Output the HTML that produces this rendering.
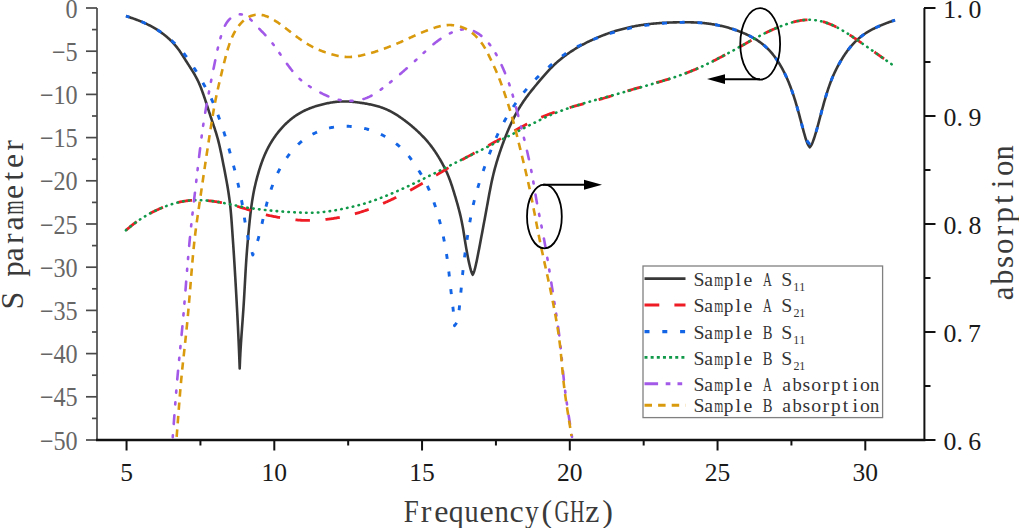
<!DOCTYPE html>
<html><head><meta charset="utf-8"><style>
html,body{margin:0;padding:0;background:#fff;}
body{width:1019px;height:528px;position:relative;overflow:hidden;font-family:"Liberation Serif",serif;}
</style></head><body>
<svg width="1019" height="528" viewBox="0 0 1019 528" style="position:absolute;left:0;top:0">
<defs><clipPath id="clip"><rect x="97" y="0" width="828" height="440"/></clipPath></defs>
<g clip-path="url(#clip)">
<path d="M126.00,16.00 L126.94,16.34 L127.89,16.67 L128.83,17.00 L129.78,17.33 L130.73,17.65 L131.68,17.98 L132.62,18.31 L133.57,18.64 L134.51,18.98 L135.45,19.32 L136.39,19.67 L137.33,20.02 L138.26,20.38 L139.20,20.75 L140.13,21.12 L141.05,21.50 L141.98,21.88 L142.90,22.27 L143.82,22.67 L144.74,23.08 L145.65,23.49 L146.56,23.91 L147.46,24.34 L148.36,24.79 L149.26,25.23 L150.15,25.69 L151.03,26.16 L151.91,26.64 L152.79,27.13 L153.66,27.62 L154.52,28.13 L155.38,28.64 L156.23,29.17 L157.08,29.71 L157.92,30.25 L158.75,30.81 L159.58,31.37 L160.40,31.94 L161.22,32.53 L162.03,33.12 L162.83,33.72 L163.63,34.32 L164.42,34.94 L165.20,35.57 L165.97,36.20 L166.74,36.84 L167.50,37.49 L168.26,38.15 L169.00,38.82 L169.74,39.50 L170.47,40.19 L171.19,40.89 L171.89,41.60 L172.59,42.31 L173.28,43.04 L173.96,43.78 L174.62,44.53 L175.27,45.29 L175.92,46.06 L176.55,46.84 L177.16,47.63 L177.77,48.43 L178.37,49.23 L178.95,50.04 L179.53,50.86 L180.10,51.69 L180.66,52.52 L181.21,53.35 L181.76,54.19 L182.30,55.03 L182.84,55.88 L183.38,56.72 L183.92,57.57 L184.45,58.41 L184.99,59.26 L185.52,60.11 L186.06,60.95 L186.60,61.80 L187.14,62.64 L187.68,63.49 L188.22,64.33 L188.76,65.17 L189.30,66.02 L189.84,66.86 L190.38,67.70 L190.92,68.55 L191.45,69.39 L191.99,70.24 L192.52,71.09 L193.04,71.95 L193.56,72.80 L194.07,73.66 L194.58,74.53 L195.08,75.40 L195.57,76.27 L196.05,77.15 L196.52,78.03 L196.99,78.92 L197.44,79.82 L197.88,80.72 L198.31,81.62 L198.73,82.53 L199.14,83.44 L199.54,84.36 L199.93,85.29 L200.31,86.21 L200.68,87.14 L201.04,88.07 L201.40,89.01 L201.75,89.95 L202.10,90.89 L202.44,91.83 L202.78,92.77 L203.11,93.72 L203.45,94.66 L203.77,95.61 L204.10,96.56 L204.42,97.50 L204.74,98.45 L205.06,99.40 L205.38,100.35 L205.69,101.30 L206.01,102.26 L206.32,103.21 L206.63,104.16 L206.94,105.11 L207.24,106.07 L207.55,107.02 L207.86,107.97 L208.16,108.93 L208.47,109.88 L208.78,110.84 L209.08,111.79 L209.39,112.74 L209.70,113.70 L210.01,114.65 L210.32,115.60 L210.64,116.55 L210.95,117.50 L211.27,118.45 L211.58,119.40 L211.90,120.35 L212.22,121.30 L212.55,122.25 L212.87,123.20 L213.19,124.15 L213.51,125.10 L213.83,126.05 L214.15,127.00 L214.47,127.95 L214.78,128.90 L215.09,129.85 L215.40,130.80 L215.70,131.76 L216.00,132.71 L216.29,133.67 L216.58,134.63 L216.86,135.59 L217.14,136.56 L217.41,137.52 L217.68,138.49 L217.94,139.45 L218.19,140.42 L218.44,141.39 L218.69,142.36 L218.93,143.34 L219.16,144.31 L219.39,145.29 L219.62,146.26 L219.84,147.24 L220.06,148.22 L220.28,149.19 L220.49,150.17 L220.70,151.15 L220.91,152.13 L221.11,153.11 L221.32,154.09 L221.52,155.07 L221.72,156.06 L221.92,157.04 L222.12,158.02 L222.31,159.00 L222.51,159.98 L222.70,160.97 L222.90,161.95 L223.09,162.93 L223.28,163.92 L223.48,164.90 L223.67,165.88 L223.86,166.86 L224.05,167.85 L224.25,168.83 L224.44,169.81 L224.63,170.80 L224.82,171.78 L225.01,172.77 L225.19,173.75 L225.38,174.73 L225.57,175.72 L225.75,176.70 L225.94,177.69 L226.12,178.67 L226.30,179.66 L226.48,180.64 L226.66,181.63 L226.84,182.61 L227.01,183.60 L227.18,184.59 L227.35,185.57 L227.52,186.56 L227.69,187.55 L227.85,188.54 L228.01,189.53 L228.17,190.52 L228.33,191.51 L228.48,192.50 L228.63,193.49 L228.78,194.48 L228.92,195.47 L229.06,196.46 L229.20,197.45 L229.33,198.45 L229.46,199.44 L229.59,200.43 L229.72,201.43 L229.84,202.42 L229.95,203.42 L230.07,204.41 L230.18,205.41 L230.29,206.40 L230.39,207.40 L230.49,208.40 L230.59,209.39 L230.69,210.39 L230.78,211.39 L230.87,212.38 L230.96,213.38 L231.05,214.38 L231.13,215.38 L231.22,216.38 L231.30,217.38 L231.38,218.37 L231.45,219.37 L231.53,220.37 L231.60,221.37 L231.68,222.37 L231.75,223.37 L231.82,224.37 L231.89,225.37 L231.96,226.37 L232.03,227.37 L232.10,228.37 L232.17,229.36 L232.24,230.36 L232.31,231.36 L232.38,232.36 L232.44,233.36 L232.51,234.36 L232.58,235.36 L232.65,236.36 L232.72,237.36 L232.79,238.36 L232.86,239.36 L232.92,240.36 L232.99,241.36 L233.06,242.36 L233.13,243.36 L233.20,244.36 L233.27,245.36 L233.33,246.35 L233.40,247.35 L233.47,248.35 L233.53,249.35 L233.60,250.35 L233.67,251.35 L233.73,252.35 L233.80,253.35 L233.86,254.35 L233.93,255.35 L233.99,256.35 L234.05,257.35 L234.12,258.35 L234.18,259.35 L234.24,260.35 L234.31,261.35 L234.37,262.35 L234.43,263.35 L234.49,264.35 L234.55,265.35 L234.61,266.35 L234.67,267.35 L234.73,268.35 L234.79,269.35 L234.85,270.35 L234.91,271.35 L234.97,272.35 L235.03,273.35 L235.09,274.35 L235.15,275.35 L235.21,276.35 L235.27,277.35 L235.33,278.35 L235.39,279.35 L235.44,280.35 L235.50,281.35 L235.56,282.35 L235.62,283.35 L235.68,284.35 L235.73,285.35 L235.79,286.35 L235.85,287.35 L235.90,288.35 L235.96,289.35 L236.02,290.35 L236.07,291.35 L236.13,292.35 L236.18,293.35 L236.24,294.35 L236.30,295.35 L236.35,296.35 L236.41,297.35 L236.46,298.35 L236.52,299.35 L236.57,300.35 L236.63,301.35 L236.68,302.35 L236.74,303.35 L236.79,304.35 L236.84,305.35 L236.90,306.35 L236.95,307.35 L237.01,308.36 L237.06,309.36 L237.11,310.36 L237.16,311.36 L237.22,312.36 L237.27,313.36 L237.32,314.36 L237.37,315.36 L237.42,316.36 L237.47,317.36 L237.52,318.36 L237.57,319.36 L237.62,320.36 L237.67,321.36 L237.72,322.36 L237.77,323.36 L237.82,324.36 L237.87,325.36 L237.92,326.36 L237.97,327.36 L238.02,328.37 L238.06,329.37 L238.11,330.37 L238.16,331.37 L238.20,332.37 L238.25,333.37 L238.30,334.37 L238.34,335.37 L238.39,336.37 L238.44,337.37 L238.48,338.37 L238.53,339.37 L238.57,340.37 L238.62,341.37 L238.66,342.37 L238.71,343.38 L238.75,344.38 L238.79,345.38 L238.84,346.38 L238.88,347.38 L238.92,348.38 L238.97,349.38 L239.01,350.38 L239.05,351.38 L239.09,352.38 L239.13,353.38 L239.17,354.39 L239.21,355.39 L239.25,356.39 L239.29,357.39 L239.33,358.39 L239.37,359.39 L239.41,360.39 L239.44,361.39 L239.48,362.39 L239.52,363.39 L239.55,364.40 L239.59,365.40 L239.63,366.40 L239.66,367.40 L239.70,368.40 L239.74,367.40 L239.78,366.40 L239.82,365.40 L239.86,364.40 L239.90,363.40 L239.94,362.40 L239.98,361.40 L240.02,360.39 L240.06,359.39 L240.11,358.39 L240.16,357.39 L240.21,356.39 L240.26,355.39 L240.31,354.39 L240.36,353.39 L240.41,352.39 L240.47,351.39 L240.53,350.39 L240.58,349.39 L240.64,348.39 L240.70,347.39 L240.76,346.39 L240.83,345.40 L240.89,344.40 L240.95,343.40 L241.02,342.40 L241.09,341.40 L241.15,340.40 L241.22,339.40 L241.29,338.40 L241.36,337.40 L241.43,336.40 L241.50,335.40 L241.57,334.41 L241.65,333.41 L241.72,332.41 L241.79,331.41 L241.86,330.41 L241.94,329.41 L242.01,328.41 L242.08,327.41 L242.16,326.41 L242.23,325.42 L242.30,324.42 L242.38,323.42 L242.45,322.42 L242.52,321.42 L242.60,320.42 L242.67,319.42 L242.74,318.42 L242.81,317.43 L242.88,316.43 L242.95,315.43 L243.02,314.43 L243.09,313.43 L243.16,312.43 L243.23,311.43 L243.30,310.43 L243.37,309.43 L243.43,308.43 L243.50,307.44 L243.56,306.44 L243.63,305.44 L243.69,304.44 L243.76,303.44 L243.82,302.44 L243.88,301.44 L243.94,300.44 L244.00,299.44 L244.06,298.44 L244.12,297.44 L244.18,296.44 L244.24,295.44 L244.29,294.44 L244.35,293.44 L244.41,292.44 L244.46,291.44 L244.52,290.44 L244.57,289.44 L244.63,288.44 L244.68,287.44 L244.74,286.44 L244.79,285.44 L244.85,284.44 L244.90,283.44 L244.96,282.44 L245.01,281.44 L245.07,280.44 L245.12,279.44 L245.18,278.44 L245.23,277.44 L245.29,276.44 L245.35,275.44 L245.40,274.44 L245.46,273.44 L245.52,272.44 L245.57,271.44 L245.63,270.44 L245.69,269.44 L245.75,268.44 L245.81,267.45 L245.88,266.45 L245.94,265.45 L246.00,264.45 L246.07,263.45 L246.13,262.45 L246.20,261.45 L246.26,260.45 L246.33,259.45 L246.40,258.45 L246.47,257.45 L246.54,256.45 L246.62,255.45 L246.69,254.46 L246.77,253.46 L246.84,252.46 L246.92,251.46 L247.00,250.46 L247.07,249.46 L247.15,248.47 L247.23,247.47 L247.32,246.47 L247.40,245.47 L247.48,244.47 L247.57,243.48 L247.65,242.48 L247.74,241.48 L247.82,240.48 L247.91,239.48 L248.00,238.49 L248.08,237.49 L248.17,236.49 L248.26,235.49 L248.35,234.50 L248.44,233.50 L248.54,232.50 L248.63,231.51 L248.72,230.51 L248.82,229.51 L248.91,228.51 L249.01,227.52 L249.11,226.52 L249.21,225.52 L249.31,224.53 L249.41,223.53 L249.51,222.54 L249.61,221.54 L249.71,220.54 L249.82,219.55 L249.93,218.55 L250.04,217.56 L250.15,216.56 L250.26,215.57 L250.37,214.57 L250.49,213.58 L250.61,212.58 L250.73,211.59 L250.85,210.59 L250.97,209.60 L251.10,208.61 L251.23,207.61 L251.36,206.62 L251.49,205.63 L251.63,204.64 L251.77,203.64 L251.92,202.65 L252.06,201.66 L252.21,200.67 L252.37,199.68 L252.53,198.69 L252.69,197.71 L252.86,196.72 L253.03,195.73 L253.20,194.75 L253.38,193.76 L253.57,192.78 L253.76,191.79 L253.95,190.81 L254.15,189.83 L254.36,188.85 L254.56,187.87 L254.78,186.89 L255.00,185.92 L255.22,184.94 L255.45,183.96 L255.68,182.99 L255.92,182.02 L256.16,181.05 L256.41,180.08 L256.66,179.11 L256.92,178.14 L257.18,177.17 L257.44,176.20 L257.71,175.24 L257.98,174.28 L258.26,173.31 L258.54,172.35 L258.82,171.39 L259.11,170.43 L259.40,169.48 L259.70,168.52 L260.01,167.56 L260.31,166.61 L260.63,165.66 L260.95,164.71 L261.27,163.76 L261.60,162.82 L261.94,161.88 L262.29,160.94 L262.64,160.00 L263.00,159.06 L263.36,158.13 L263.74,157.20 L264.12,156.28 L264.51,155.35 L264.90,154.43 L265.31,153.52 L265.72,152.61 L266.14,151.70 L266.57,150.79 L267.01,149.89 L267.46,149.00 L267.92,148.11 L268.38,147.22 L268.86,146.34 L269.34,145.46 L269.83,144.59 L270.33,143.72 L270.84,142.86 L271.35,142.00 L271.88,141.15 L272.41,140.30 L272.96,139.46 L273.51,138.62 L274.07,137.79 L274.64,136.97 L275.21,136.15 L275.80,135.34 L276.39,134.53 L277.00,133.73 L277.61,132.94 L278.23,132.15 L278.86,131.37 L279.49,130.60 L280.14,129.83 L280.79,129.07 L281.45,128.32 L282.13,127.58 L282.81,126.84 L283.49,126.12 L284.19,125.40 L284.90,124.69 L285.61,123.98 L286.33,123.29 L287.06,122.61 L287.80,121.93 L288.55,121.27 L289.31,120.61 L290.07,119.97 L290.85,119.33 L291.63,118.70 L292.42,118.09 L293.22,117.49 L294.03,116.89 L294.84,116.31 L295.67,115.74 L296.50,115.19 L297.34,114.64 L298.19,114.11 L299.04,113.59 L299.90,113.08 L300.77,112.58 L301.65,112.10 L302.54,111.63 L303.43,111.17 L304.32,110.73 L305.23,110.30 L306.14,109.88 L307.05,109.47 L307.97,109.08 L308.90,108.69 L309.83,108.32 L310.76,107.96 L311.70,107.61 L312.64,107.27 L313.59,106.94 L314.54,106.62 L315.49,106.31 L316.45,106.01 L317.40,105.72 L318.36,105.44 L319.33,105.17 L320.29,104.90 L321.26,104.65 L322.23,104.40 L323.20,104.16 L324.18,103.93 L325.16,103.71 L326.13,103.49 L327.11,103.29 L328.10,103.10 L329.08,102.91 L330.07,102.74 L331.06,102.57 L332.04,102.42 L333.04,102.27 L334.03,102.14 L335.02,102.01 L336.02,101.90 L337.01,101.80 L338.01,101.71 L339.01,101.64 L340.01,101.57 L341.01,101.52 L342.01,101.48 L343.01,101.46 L344.01,101.45 L345.01,101.45 L346.01,101.46 L347.02,101.49 L348.02,101.52 L349.02,101.57 L350.02,101.63 L351.02,101.70 L352.01,101.79 L353.01,101.88 L354.01,101.97 L355.00,102.08 L356.00,102.20 L356.99,102.32 L357.98,102.45 L358.98,102.58 L359.97,102.72 L360.96,102.86 L361.95,103.01 L362.94,103.16 L363.93,103.32 L364.92,103.49 L365.90,103.65 L366.89,103.83 L367.88,104.01 L368.86,104.19 L369.84,104.38 L370.82,104.58 L371.80,104.79 L372.78,105.01 L373.76,105.23 L374.73,105.47 L375.70,105.71 L376.67,105.97 L377.63,106.24 L378.60,106.52 L379.55,106.82 L380.50,107.12 L381.45,107.45 L382.40,107.78 L383.33,108.13 L384.27,108.50 L385.19,108.88 L386.11,109.27 L387.03,109.68 L387.94,110.10 L388.84,110.53 L389.74,110.97 L390.63,111.43 L391.52,111.90 L392.40,112.38 L393.27,112.87 L394.14,113.37 L395.00,113.88 L395.85,114.40 L396.70,114.93 L397.55,115.46 L398.39,116.01 L399.22,116.57 L400.05,117.13 L400.87,117.70 L401.69,118.27 L402.51,118.86 L403.32,119.45 L404.12,120.04 L404.93,120.64 L405.72,121.24 L406.52,121.85 L407.31,122.47 L408.09,123.09 L408.88,123.71 L409.66,124.34 L410.43,124.98 L411.20,125.61 L411.97,126.26 L412.74,126.90 L413.50,127.56 L414.25,128.21 L415.00,128.87 L415.75,129.54 L416.49,130.21 L417.23,130.89 L417.96,131.58 L418.69,132.26 L419.41,132.96 L420.13,133.66 L420.84,134.36 L421.55,135.07 L422.25,135.79 L422.94,136.51 L423.63,137.23 L424.32,137.97 L424.99,138.70 L425.66,139.45 L426.33,140.20 L426.99,140.95 L427.64,141.71 L428.28,142.48 L428.92,143.25 L429.55,144.03 L430.17,144.81 L430.79,145.60 L431.40,146.40 L432.00,147.20 L432.59,148.00 L433.18,148.81 L433.76,149.63 L434.33,150.45 L434.90,151.28 L435.46,152.11 L436.01,152.95 L436.55,153.79 L437.09,154.63 L437.63,155.48 L438.15,156.33 L438.68,157.18 L439.19,158.04 L439.71,158.90 L440.21,159.77 L440.71,160.63 L441.21,161.50 L441.70,162.37 L442.19,163.25 L442.67,164.13 L443.15,165.01 L443.61,165.89 L444.08,166.78 L444.53,167.67 L444.98,168.57 L445.42,169.47 L445.85,170.37 L446.28,171.28 L446.70,172.19 L447.10,173.10 L447.50,174.02 L447.90,174.94 L448.28,175.87 L448.66,176.80 L449.02,177.73 L449.38,178.66 L449.74,179.60 L450.08,180.54 L450.42,181.48 L450.75,182.43 L451.08,183.37 L451.40,184.32 L451.72,185.27 L452.03,186.22 L452.34,187.17 L452.65,188.13 L452.95,189.08 L453.25,190.04 L453.55,190.99 L453.85,191.95 L454.14,192.91 L454.43,193.87 L454.72,194.82 L455.01,195.78 L455.30,196.74 L455.59,197.70 L455.87,198.66 L456.15,199.62 L456.43,200.58 L456.71,201.55 L456.99,202.51 L457.26,203.47 L457.53,204.44 L457.80,205.40 L458.07,206.37 L458.33,207.33 L458.59,208.30 L458.85,209.27 L459.10,210.24 L459.35,211.21 L459.60,212.18 L459.84,213.15 L460.08,214.12 L460.31,215.09 L460.54,216.07 L460.76,217.05 L460.98,218.02 L461.19,219.00 L461.40,219.98 L461.61,220.96 L461.81,221.94 L462.00,222.93 L462.19,223.91 L462.38,224.89 L462.56,225.88 L462.73,226.86 L462.91,227.85 L463.08,228.84 L463.25,229.82 L463.41,230.81 L463.57,231.80 L463.73,232.79 L463.89,233.78 L464.05,234.77 L464.21,235.75 L464.36,236.74 L464.52,237.73 L464.68,238.72 L464.83,239.71 L464.99,240.70 L465.15,241.69 L465.31,242.68 L465.47,243.67 L465.63,244.65 L465.80,245.64 L465.96,246.63 L466.13,247.62 L466.30,248.60 L466.47,249.59 L466.65,250.58 L466.83,251.56 L467.01,252.55 L467.19,253.53 L467.37,254.52 L467.56,255.50 L467.75,256.48 L467.94,257.47 L468.14,258.45 L468.34,259.43 L468.54,260.41 L468.75,261.39 L468.96,262.37 L469.18,263.35 L469.39,264.32 L469.62,265.30 L469.85,266.27 L470.09,267.25 L470.34,268.22 L470.60,269.18 L470.87,270.15 L471.17,271.10 L471.49,272.05 L471.86,272.98 L472.27,273.90 L472.70,274.80 L473.13,273.90 L473.54,272.99 L473.91,272.05 L474.23,271.11 L474.52,270.15 L474.79,269.19 L475.05,268.22 L475.29,267.25 L475.53,266.28 L475.75,265.31 L475.97,264.33 L476.18,263.35 L476.39,262.38 L476.60,261.40 L476.80,260.42 L477.00,259.44 L477.20,258.46 L477.40,257.48 L477.59,256.50 L477.79,255.52 L477.98,254.54 L478.18,253.55 L478.37,252.57 L478.56,251.59 L478.75,250.61 L478.94,249.63 L479.13,248.65 L479.32,247.66 L479.50,246.68 L479.69,245.70 L479.88,244.72 L480.07,243.73 L480.25,242.75 L480.44,241.77 L480.62,240.79 L480.81,239.80 L480.99,238.82 L481.18,237.84 L481.36,236.86 L481.55,235.87 L481.73,234.89 L481.92,233.91 L482.10,232.92 L482.28,231.94 L482.47,230.96 L482.65,229.98 L482.84,228.99 L483.02,228.01 L483.20,227.03 L483.39,226.04 L483.57,225.06 L483.76,224.08 L483.94,223.09 L484.12,222.11 L484.30,221.13 L484.49,220.14 L484.67,219.16 L484.85,218.18 L485.03,217.20 L485.21,216.21 L485.40,215.23 L485.58,214.24 L485.76,213.26 L485.94,212.28 L486.12,211.29 L486.30,210.31 L486.48,209.33 L486.66,208.34 L486.83,207.36 L487.01,206.37 L487.19,205.39 L487.37,204.41 L487.55,203.42 L487.73,202.44 L487.90,201.45 L488.08,200.47 L488.26,199.49 L488.44,198.50 L488.62,197.52 L488.80,196.54 L488.98,195.55 L489.16,194.57 L489.34,193.59 L489.53,192.60 L489.71,191.62 L489.90,190.64 L490.09,189.65 L490.28,188.67 L490.47,187.69 L490.66,186.71 L490.86,185.73 L491.06,184.75 L491.26,183.77 L491.47,182.79 L491.67,181.81 L491.88,180.84 L492.10,179.86 L492.32,178.88 L492.54,177.91 L492.76,176.93 L492.99,175.96 L493.22,174.99 L493.46,174.02 L493.70,173.05 L493.94,172.08 L494.19,171.11 L494.44,170.14 L494.70,169.17 L494.96,168.21 L495.22,167.24 L495.49,166.28 L495.76,165.32 L496.04,164.36 L496.32,163.39 L496.60,162.44 L496.89,161.48 L497.18,160.52 L497.47,159.56 L497.77,158.61 L498.07,157.66 L498.37,156.70 L498.68,155.75 L498.99,154.80 L499.30,153.85 L499.61,152.90 L499.93,151.95 L500.25,151.01 L500.57,150.06 L500.90,149.11 L501.23,148.17 L501.56,147.23 L501.90,146.28 L502.23,145.34 L502.57,144.40 L502.92,143.46 L503.26,142.52 L503.61,141.59 L503.96,140.65 L504.32,139.72 L504.68,138.78 L505.04,137.85 L505.40,136.92 L505.77,135.99 L506.14,135.06 L506.51,134.13 L506.89,133.20 L507.27,132.28 L507.65,131.36 L508.04,130.43 L508.43,129.51 L508.82,128.59 L509.22,127.68 L509.62,126.76 L510.03,125.85 L510.44,124.94 L510.86,124.03 L511.27,123.12 L511.70,122.21 L512.13,121.31 L512.56,120.41 L513.00,119.51 L513.44,118.61 L513.89,117.72 L514.34,116.83 L514.80,115.94 L515.26,115.05 L515.73,114.17 L516.21,113.29 L516.69,112.41 L517.18,111.54 L517.67,110.67 L518.17,109.80 L518.68,108.94 L519.19,108.08 L519.71,107.23 L520.23,106.38 L520.77,105.53 L521.30,104.69 L521.85,103.85 L522.40,103.01 L522.95,102.18 L523.51,101.35 L524.08,100.53 L524.65,99.71 L525.23,98.89 L525.82,98.08 L526.41,97.27 L527.00,96.47 L527.60,95.67 L528.20,94.87 L528.81,94.08 L529.42,93.29 L530.03,92.50 L530.65,91.71 L531.27,90.93 L531.90,90.15 L532.53,89.37 L533.15,88.59 L533.79,87.81 L534.42,87.04 L535.05,86.27 L535.69,85.50 L536.33,84.73 L536.97,83.96 L537.61,83.19 L538.25,82.42 L538.89,81.65 L539.53,80.89 L540.18,80.12 L540.82,79.36 L541.47,78.60 L542.12,77.84 L542.77,77.08 L543.42,76.32 L544.08,75.57 L544.74,74.81 L545.40,74.06 L546.06,73.31 L546.73,72.57 L547.40,71.83 L548.08,71.09 L548.76,70.36 L549.44,69.63 L550.13,68.91 L550.83,68.19 L551.53,67.48 L552.24,66.77 L552.95,66.07 L553.67,65.37 L554.39,64.68 L555.12,64.00 L555.86,63.32 L556.60,62.65 L557.35,61.98 L558.10,61.33 L558.86,60.67 L559.62,60.03 L560.39,59.39 L561.17,58.76 L561.95,58.13 L562.73,57.52 L563.52,56.90 L564.32,56.30 L565.12,55.70 L565.92,55.10 L566.73,54.52 L567.55,53.94 L568.37,53.36 L569.19,52.79 L570.02,52.23 L570.85,51.67 L571.68,51.12 L572.52,50.58 L573.36,50.04 L574.21,49.51 L575.06,48.98 L575.91,48.46 L576.77,47.94 L577.63,47.44 L578.49,46.93 L579.36,46.43 L580.23,45.94 L581.11,45.46 L581.98,44.98 L582.86,44.50 L583.75,44.03 L584.63,43.57 L585.52,43.11 L586.41,42.66 L587.31,42.21 L588.21,41.77 L589.11,41.33 L590.01,40.90 L590.91,40.48 L591.82,40.06 L592.73,39.64 L593.64,39.23 L594.55,38.82 L595.47,38.42 L596.39,38.03 L597.31,37.64 L598.23,37.25 L599.16,36.87 L600.08,36.49 L601.01,36.12 L601.94,35.75 L602.87,35.39 L603.80,35.03 L604.74,34.67 L605.68,34.32 L606.62,33.98 L607.56,33.64 L608.50,33.31 L609.44,32.98 L610.39,32.65 L611.34,32.33 L612.28,32.01 L613.24,31.70 L614.19,31.40 L615.14,31.10 L616.10,30.80 L617.05,30.51 L618.01,30.23 L618.97,29.95 L619.94,29.68 L620.90,29.41 L621.86,29.15 L622.83,28.89 L623.80,28.64 L624.77,28.39 L625.74,28.15 L626.71,27.92 L627.68,27.69 L628.66,27.47 L629.64,27.25 L630.61,27.04 L631.59,26.83 L632.57,26.63 L633.55,26.44 L634.53,26.25 L635.52,26.07 L636.50,25.89 L637.49,25.72 L638.47,25.55 L639.46,25.39 L640.45,25.23 L641.44,25.08 L642.42,24.94 L643.41,24.79 L644.40,24.66 L645.40,24.52 L646.39,24.40 L647.38,24.27 L648.37,24.15 L649.37,24.04 L650.36,23.93 L651.35,23.82 L652.35,23.72 L653.34,23.62 L654.34,23.53 L655.34,23.44 L656.33,23.36 L657.33,23.27 L658.33,23.20 L659.32,23.12 L660.32,23.05 L661.32,22.98 L662.32,22.92 L663.32,22.86 L664.31,22.80 L665.31,22.75 L666.31,22.70 L667.31,22.65 L668.31,22.60 L669.31,22.56 L670.31,22.52 L671.31,22.49 L672.31,22.45 L673.31,22.42 L674.30,22.39 L675.30,22.37 L676.30,22.34 L677.30,22.32 L678.30,22.30 L679.30,22.29 L680.30,22.27 L681.30,22.26 L682.30,22.26 L683.30,22.25 L684.30,22.25 L685.30,22.25 L686.30,22.25 L687.30,22.26 L688.30,22.27 L689.30,22.29 L690.30,22.31 L691.30,22.33 L692.30,22.36 L693.30,22.40 L694.30,22.44 L695.30,22.48 L696.30,22.53 L697.30,22.59 L698.30,22.65 L699.29,22.72 L700.29,22.79 L701.29,22.87 L702.28,22.96 L703.28,23.05 L704.27,23.15 L705.27,23.25 L706.26,23.37 L707.26,23.49 L708.25,23.61 L709.24,23.75 L710.23,23.89 L711.22,24.03 L712.21,24.19 L713.19,24.35 L714.18,24.51 L715.16,24.69 L716.15,24.87 L717.13,25.06 L718.11,25.25 L719.09,25.45 L720.07,25.66 L721.04,25.88 L722.02,26.10 L722.99,26.33 L723.96,26.57 L724.93,26.81 L725.90,27.06 L726.87,27.32 L727.83,27.59 L728.79,27.86 L729.75,28.14 L730.71,28.43 L731.67,28.72 L732.62,29.02 L733.57,29.33 L734.52,29.65 L735.46,29.98 L736.41,30.31 L737.35,30.65 L738.29,31.00 L739.22,31.35 L740.15,31.71 L741.08,32.08 L742.01,32.46 L742.93,32.85 L743.85,33.24 L744.77,33.64 L745.68,34.05 L746.59,34.47 L747.49,34.89 L748.39,35.33 L749.29,35.77 L750.18,36.23 L751.07,36.69 L751.95,37.16 L752.82,37.64 L753.69,38.13 L754.56,38.64 L755.42,39.15 L756.27,39.68 L757.11,40.21 L757.95,40.76 L758.78,41.32 L759.59,41.90 L760.41,42.48 L761.21,43.08 L762.00,43.69 L762.78,44.31 L763.56,44.94 L764.32,45.59 L765.07,46.25 L765.82,46.92 L766.55,47.60 L767.27,48.29 L767.98,48.99 L768.68,49.71 L769.37,50.43 L770.05,51.17 L770.72,51.91 L771.38,52.66 L772.02,53.43 L772.66,54.20 L773.29,54.97 L773.91,55.76 L774.51,56.56 L775.11,57.36 L775.70,58.17 L776.28,58.98 L776.85,59.80 L777.41,60.63 L777.96,61.46 L778.50,62.30 L779.04,63.15 L779.56,64.00 L780.08,64.86 L780.59,65.72 L781.09,66.58 L781.58,67.45 L782.07,68.33 L782.54,69.21 L783.01,70.09 L783.47,70.98 L783.93,71.87 L784.37,72.76 L784.82,73.66 L785.25,74.56 L785.68,75.47 L786.10,76.37 L786.51,77.28 L786.92,78.20 L787.32,79.11 L787.72,80.03 L788.11,80.95 L788.49,81.87 L788.87,82.80 L789.24,83.73 L789.61,84.66 L789.98,85.59 L790.33,86.52 L790.69,87.46 L791.04,88.40 L791.38,89.33 L791.72,90.27 L792.06,91.22 L792.39,92.16 L792.71,93.11 L793.04,94.05 L793.36,95.00 L793.67,95.95 L793.98,96.90 L794.29,97.85 L794.59,98.80 L794.89,99.76 L795.19,100.71 L795.48,101.67 L795.77,102.63 L796.05,103.59 L796.34,104.54 L796.62,105.50 L796.90,106.46 L797.17,107.43 L797.44,108.39 L797.71,109.35 L797.98,110.31 L798.25,111.28 L798.51,112.24 L798.77,113.21 L799.04,114.17 L799.30,115.14 L799.56,116.10 L799.81,117.07 L800.07,118.04 L800.33,119.00 L800.58,119.97 L800.84,120.94 L801.10,121.90 L801.35,122.87 L801.61,123.84 L801.87,124.80 L802.12,125.77 L802.38,126.74 L802.64,127.70 L802.90,128.67 L803.16,129.63 L803.42,130.60 L803.68,131.56 L803.95,132.53 L804.22,133.49 L804.49,134.45 L804.76,135.42 L805.04,136.38 L805.32,137.34 L805.61,138.29 L805.91,139.24 L806.23,140.19 L806.56,141.14 L806.91,142.08 L807.27,143.01 L807.67,143.92 L808.12,144.82 L808.64,145.67 L809.21,146.49 L809.80,147.30 L810.39,146.49 L810.97,145.66 L811.49,144.80 L811.94,143.90 L812.35,142.98 L812.73,142.05 L813.09,141.11 L813.43,140.17 L813.77,139.22 L814.09,138.27 L814.41,137.31 L814.72,136.36 L815.02,135.40 L815.32,134.44 L815.61,133.47 L815.90,132.51 L816.18,131.54 L816.46,130.58 L816.73,129.61 L817.00,128.64 L817.27,127.67 L817.54,126.70 L817.80,125.73 L818.07,124.76 L818.33,123.79 L818.59,122.82 L818.85,121.85 L819.11,120.87 L819.37,119.90 L819.63,118.93 L819.89,117.96 L820.15,116.99 L820.41,116.02 L820.67,115.04 L820.93,114.07 L821.18,113.10 L821.44,112.13 L821.70,111.16 L821.96,110.18 L822.22,109.21 L822.49,108.24 L822.75,107.27 L823.01,106.30 L823.28,105.33 L823.54,104.36 L823.81,103.39 L824.08,102.42 L824.36,101.45 L824.63,100.49 L824.91,99.52 L825.20,98.56 L825.48,97.59 L825.77,96.63 L826.06,95.66 L826.35,94.70 L826.65,93.74 L826.95,92.78 L827.26,91.82 L827.56,90.87 L827.88,89.91 L828.19,88.95 L828.51,88.00 L828.83,87.05 L829.16,86.10 L829.50,85.15 L829.84,84.20 L830.18,83.26 L830.53,82.31 L830.89,81.37 L831.25,80.44 L831.62,79.50 L832.00,78.57 L832.39,77.64 L832.78,76.71 L833.18,75.79 L833.58,74.87 L833.99,73.95 L834.41,73.04 L834.84,72.13 L835.27,71.22 L835.71,70.31 L836.16,69.41 L836.61,68.52 L837.07,67.62 L837.54,66.73 L838.01,65.84 L838.49,64.96 L838.98,64.08 L839.47,63.20 L839.97,62.32 L840.47,61.45 L840.98,60.59 L841.50,59.72 L842.02,58.86 L842.54,58.01 L843.08,57.15 L843.62,56.31 L844.17,55.46 L844.72,54.62 L845.28,53.79 L845.85,52.96 L846.43,52.14 L847.02,51.32 L847.61,50.51 L848.22,49.71 L848.84,48.91 L849.46,48.12 L850.09,47.34 L850.74,46.57 L851.39,45.81 L852.06,45.05 L852.74,44.31 L853.42,43.57 L854.12,42.85 L854.82,42.13 L855.54,41.42 L856.26,40.72 L857.00,40.04 L857.74,39.36 L858.49,38.69 L859.26,38.04 L860.03,37.39 L860.81,36.76 L861.60,36.14 L862.40,35.53 L863.21,34.94 L864.03,34.35 L864.86,33.78 L865.70,33.22 L866.54,32.68 L867.40,32.15 L868.26,31.63 L869.13,31.12 L870.00,30.62 L870.88,30.14 L871.77,29.67 L872.66,29.20 L873.56,28.75 L874.46,28.31 L875.37,27.87 L876.28,27.44 L877.20,27.02 L878.11,26.61 L879.03,26.20 L879.96,25.80 L880.88,25.41 L881.81,25.02 L882.74,24.63 L883.67,24.25 L884.60,23.88 L885.54,23.51 L886.48,23.14 L887.41,22.78 L888.36,22.43 L889.30,22.08 L890.25,21.75 L891.20,21.42 L892.15,21.09 L893.10,20.77 L894.05,20.44 L895.00,20.10" fill="none" stroke="#383838" stroke-width="2.6" stroke-linecap="butt" stroke-linejoin="round"/>

<path d="M125.90,230.30 L126.68,229.67 L127.44,229.03 L128.21,228.38 L128.97,227.74 L129.73,227.09 L130.50,226.45 L131.27,225.81 L132.05,225.18 L132.83,224.56 L133.62,223.95 L134.42,223.35 L135.23,222.76 L136.04,222.17 L136.86,221.60 L137.68,221.03 L138.51,220.47 L139.34,219.91 L140.18,219.36 L141.02,218.82 L141.86,218.28 L142.71,217.75 L143.56,217.22 L144.41,216.70 L145.27,216.19 L146.13,215.68 L147.00,215.18 L147.87,214.68 L148.74,214.19 L149.61,213.71 L150.49,213.23 L151.37,212.76 L152.26,212.30 L153.15,211.84 L154.04,211.38 L154.94,210.94 L155.84,210.50 L156.74,210.07 L157.64,209.65 L158.55,209.23 L159.47,208.82 L160.38,208.42 L161.30,208.02 L162.22,207.63 L163.15,207.25 L164.07,206.88 L165.01,206.51 L165.94,206.16 L166.88,205.81 L167.82,205.47 L168.76,205.13 L169.71,204.81 L170.66,204.50 L171.61,204.19 L172.56,203.89 L173.52,203.61 L174.48,203.33 L175.45,203.07 L176.41,202.81 L177.38,202.57 L178.36,202.33 L179.33,202.11 L180.31,201.90 L181.29,201.70 L182.27,201.51 L183.26,201.34 L184.24,201.18 L185.23,201.02 L186.22,200.88 L187.21,200.76 L188.21,200.64 L189.20,200.54 L190.20,200.45 L191.20,200.37 L192.19,200.30 L193.19,200.25 L194.19,200.20 L195.19,200.17 L196.19,200.15 L197.19,200.14 L198.19,200.14 L199.19,200.15 L200.19,200.18 L201.19,200.21 L202.19,200.25 L203.19,200.30 L204.19,200.36 L205.19,200.43 L206.18,200.50 L207.18,200.59 L208.18,200.68 L209.17,200.78 L210.17,200.89 L211.16,201.00 L212.15,201.12 L213.14,201.25 L214.13,201.39 L215.12,201.53 L216.11,201.68 L217.10,201.84 L218.09,202.00 L219.07,202.17 L220.06,202.34 L221.04,202.52 L222.02,202.71 L223.01,202.90 L223.99,203.10 L224.97,203.31 L225.94,203.52 L226.92,203.73 L227.89,203.96 L228.87,204.18 L229.84,204.42 L230.81,204.66 L231.78,204.90 L232.75,205.15 L233.72,205.40 L234.68,205.66 L235.65,205.92 L236.61,206.19 L237.58,206.46 L238.54,206.73 L239.50,207.01 L240.46,207.29 L241.42,207.58 L242.38,207.86 L243.33,208.15 L244.29,208.44 L245.25,208.73 L246.20,209.03 L247.16,209.32 L248.11,209.62 L249.07,209.92 L250.02,210.22 L250.98,210.51 L251.93,210.81 L252.89,211.10 L253.85,211.39 L254.80,211.69 L255.76,211.97 L256.72,212.26 L257.68,212.54 L258.64,212.82 L259.60,213.09 L260.57,213.36 L261.53,213.63 L262.50,213.88 L263.46,214.14 L264.43,214.39 L265.40,214.63 L266.37,214.87 L267.35,215.10 L268.32,215.32 L269.30,215.54 L270.28,215.75 L271.25,215.96 L272.23,216.16 L273.21,216.36 L274.19,216.55 L275.18,216.74 L276.16,216.93 L277.14,217.11 L278.13,217.28 L279.11,217.45 L280.10,217.62 L281.09,217.79 L282.07,217.95 L283.06,218.11 L284.05,218.27 L285.04,218.42 L286.03,218.57 L287.01,218.72 L288.00,218.86 L288.99,219.00 L289.99,219.13 L290.98,219.26 L291.97,219.39 L292.96,219.51 L293.96,219.62 L294.95,219.73 L295.95,219.83 L296.94,219.93 L297.94,220.02 L298.93,220.10 L299.93,220.17 L300.93,220.23 L301.93,220.29 L302.93,220.34 L303.93,220.38 L304.93,220.42 L305.93,220.44 L306.93,220.46 L307.93,220.47 L308.93,220.47 L309.93,220.46 L310.93,220.44 L311.93,220.42 L312.93,220.39 L313.93,220.36 L314.93,220.31 L315.92,220.26 L316.92,220.21 L317.92,220.14 L318.92,220.07 L319.92,220.00 L320.91,219.92 L321.91,219.83 L322.90,219.74 L323.90,219.64 L324.89,219.53 L325.89,219.43 L326.88,219.31 L327.88,219.19 L328.87,219.06 L329.86,218.93 L330.85,218.80 L331.84,218.66 L332.83,218.51 L333.82,218.36 L334.81,218.20 L335.79,218.04 L336.78,217.87 L337.76,217.70 L338.75,217.52 L339.73,217.34 L340.71,217.15 L341.70,216.96 L342.68,216.76 L343.66,216.56 L344.63,216.35 L345.61,216.14 L346.59,215.92 L347.56,215.70 L348.54,215.47 L349.51,215.23 L350.48,214.99 L351.45,214.74 L352.42,214.49 L353.38,214.24 L354.35,213.97 L355.31,213.71 L356.27,213.43 L357.23,213.15 L358.19,212.87 L359.15,212.58 L360.11,212.28 L361.06,211.98 L362.01,211.67 L362.96,211.36 L363.91,211.04 L364.85,210.72 L365.80,210.39 L366.74,210.06 L367.68,209.72 L368.62,209.37 L369.56,209.02 L370.49,208.67 L371.43,208.31 L372.36,207.94 L373.29,207.58 L374.22,207.20 L375.14,206.83 L376.07,206.45 L376.99,206.06 L377.91,205.68 L378.84,205.29 L379.76,204.89 L380.67,204.50 L381.59,204.10 L382.51,203.70 L383.42,203.29 L384.34,202.89 L385.25,202.48 L386.16,202.07 L387.07,201.66 L387.98,201.24 L388.89,200.82 L389.80,200.40 L390.71,199.98 L391.61,199.56 L392.52,199.13 L393.42,198.71 L394.32,198.28 L395.23,197.84 L396.13,197.41 L397.03,196.97 L397.93,196.54 L398.82,196.10 L399.72,195.65 L400.62,195.21 L401.51,194.76 L402.41,194.31 L403.30,193.86 L404.19,193.40 L405.08,192.95 L405.97,192.49 L406.85,192.03 L407.74,191.56 L408.62,191.10 L409.51,190.63 L410.39,190.16 L411.27,189.68 L412.15,189.20 L413.03,188.73 L413.90,188.24 L414.78,187.76 L415.65,187.27 L416.53,186.79 L417.40,186.30 L418.27,185.80 L419.14,185.31 L420.01,184.81 L420.87,184.31 L421.74,183.81 L422.60,183.31 L423.47,182.81 L424.33,182.30 L425.19,181.79 L426.05,181.28 L426.91,180.78 L427.77,180.26 L428.63,179.75 L429.49,179.24 L430.35,178.73 L431.21,178.21 L432.07,177.70 L432.92,177.18 L433.78,176.67 L434.64,176.15 L435.49,175.64 L436.35,175.12 L437.21,174.60 L438.06,174.08 L438.92,173.57 L439.77,173.05 L440.63,172.53 L441.49,172.01 L442.34,171.50 L443.20,170.98 L444.05,170.46 L444.91,169.94 L445.77,169.43 L446.62,168.91 L447.48,168.39 L448.33,167.88 L449.19,167.36 L450.05,166.85 L450.91,166.33 L451.76,165.82 L452.62,165.30 L453.48,164.79 L454.34,164.28 L455.20,163.77 L456.06,163.26 L456.93,162.76 L457.79,162.25 L458.65,161.75 L459.52,161.25 L460.39,160.75 L461.26,160.25 L462.12,159.76 L463.00,159.27 L463.87,158.78 L464.74,158.29 L465.61,157.80 L466.49,157.32 L467.37,156.84 L468.24,156.36 L469.12,155.88 L470.00,155.41 L470.88,154.93 L471.77,154.46 L472.65,153.99 L473.53,153.52 L474.41,153.05 L475.30,152.58 L476.18,152.12 L477.07,151.65 L477.95,151.18 L478.84,150.71 L479.72,150.24 L480.60,149.78 L481.49,149.31 L482.37,148.84 L483.25,148.36 L484.13,147.89 L485.01,147.42 L485.89,146.94 L486.77,146.46 L487.65,145.98 L488.52,145.50 L489.40,145.02 L490.27,144.53 L491.15,144.04 L492.02,143.56 L492.89,143.07 L493.76,142.57 L494.63,142.08 L495.50,141.59 L496.37,141.09 L497.24,140.60 L498.11,140.10 L498.98,139.60 L499.84,139.11 L500.71,138.61 L501.58,138.11 L502.45,137.61 L503.31,137.11 L504.18,136.61 L505.05,136.12 L505.92,135.62 L506.78,135.12 L507.65,134.63 L508.52,134.13 L509.39,133.64 L510.26,133.15 L511.13,132.66 L512.01,132.17 L512.88,131.68 L513.75,131.19 L514.63,130.71 L515.50,130.22 L516.38,129.74 L517.25,129.26 L518.13,128.78 L519.01,128.30 L519.89,127.82 L520.77,127.35 L521.65,126.88 L522.53,126.41 L523.42,125.94 L524.30,125.47 L525.19,125.01 L526.08,124.55 L526.97,124.09 L527.86,123.63 L528.75,123.18 L529.64,122.73 L530.53,122.28 L531.43,121.83 L532.33,121.39 L533.23,120.96 L534.13,120.53 L535.03,120.10 L535.94,119.67 L536.85,119.25 L537.76,118.84 L538.67,118.43 L539.58,118.02 L540.50,117.62 L541.42,117.23 L542.34,116.84 L543.27,116.46 L544.19,116.08 L545.12,115.71 L546.05,115.34 L546.98,114.98 L547.92,114.62 L548.85,114.27 L549.79,113.92 L550.73,113.58 L551.67,113.25 L552.62,112.91 L553.56,112.59 L554.51,112.27 L555.46,111.95 L556.41,111.63 L557.36,111.32 L558.31,111.02 L559.26,110.71 L560.22,110.41 L561.17,110.12 L562.13,109.82 L563.08,109.53 L564.04,109.24 L565.00,108.95 L565.96,108.67 L566.92,108.39 L567.88,108.11 L568.84,107.83 L569.80,107.55 L570.76,107.27 L571.72,107.00 L572.68,106.73 L573.65,106.46 L574.61,106.19 L575.57,105.92 L576.54,105.65 L577.50,105.38 L578.47,105.12 L579.43,104.86 L580.40,104.59 L581.36,104.33 L582.33,104.07 L583.29,103.81 L584.26,103.55 L585.22,103.29 L586.19,103.03 L587.16,102.77 L588.12,102.51 L589.09,102.26 L590.06,102.00 L591.02,101.74 L591.99,101.48 L592.95,101.22 L593.92,100.96 L594.88,100.69 L595.85,100.43 L596.81,100.17 L597.78,99.90 L598.74,99.63 L599.70,99.36 L600.67,99.09 L601.63,98.82 L602.59,98.54 L603.55,98.27 L604.51,97.99 L605.47,97.71 L606.43,97.43 L607.39,97.14 L608.35,96.86 L609.31,96.57 L610.26,96.28 L611.22,95.99 L612.18,95.70 L613.13,95.41 L614.09,95.11 L615.05,94.82 L616.00,94.52 L616.96,94.23 L617.91,93.93 L618.87,93.63 L619.82,93.34 L620.78,93.04 L621.73,92.74 L622.69,92.45 L623.64,92.15 L624.60,91.85 L625.55,91.56 L626.51,91.27 L627.47,90.97 L628.42,90.68 L629.38,90.39 L630.34,90.10 L631.30,89.81 L632.25,89.53 L633.21,89.24 L634.17,88.96 L635.13,88.68 L636.09,88.40 L637.05,88.12 L638.01,87.84 L638.97,87.56 L639.94,87.29 L640.90,87.01 L641.86,86.74 L642.82,86.47 L643.79,86.20 L644.75,85.93 L645.71,85.66 L646.68,85.40 L647.64,85.13 L648.60,84.86 L649.57,84.59 L650.53,84.33 L651.50,84.06 L652.46,83.79 L653.42,83.52 L654.39,83.26 L655.35,82.99 L656.31,82.72 L657.27,82.44 L658.24,82.17 L659.20,81.90 L660.16,81.62 L661.12,81.34 L662.08,81.06 L663.04,80.78 L664.00,80.50 L664.96,80.21 L665.92,79.92 L666.87,79.63 L667.83,79.34 L668.78,79.04 L669.74,78.74 L670.69,78.44 L671.64,78.13 L672.59,77.82 L673.55,77.51 L674.49,77.20 L675.44,76.88 L676.39,76.56 L677.34,76.24 L678.28,75.91 L679.23,75.58 L680.17,75.25 L681.11,74.91 L682.05,74.57 L682.99,74.23 L683.93,73.89 L684.87,73.54 L685.80,73.19 L686.74,72.83 L687.67,72.47 L688.61,72.11 L689.54,71.75 L690.47,71.38 L691.40,71.01 L692.32,70.63 L693.25,70.25 L694.17,69.87 L695.10,69.48 L696.02,69.10 L696.94,68.70 L697.86,68.31 L698.77,67.91 L699.69,67.51 L700.60,67.10 L701.51,66.69 L702.43,66.28 L703.33,65.86 L704.24,65.44 L705.15,65.01 L706.05,64.59 L706.96,64.16 L707.86,63.72 L708.76,63.29 L709.65,62.85 L710.55,62.41 L711.45,61.96 L712.34,61.51 L713.23,61.06 L714.13,60.61 L715.02,60.15 L715.91,59.70 L716.79,59.24 L717.68,58.78 L718.57,58.31 L719.45,57.85 L720.34,57.38 L721.22,56.91 L722.11,56.45 L722.99,55.98 L723.87,55.50 L724.75,55.03 L725.63,54.56 L726.51,54.08 L727.39,53.61 L728.27,53.13 L729.15,52.66 L730.03,52.18 L730.91,51.70 L731.79,51.22 L732.67,50.74 L733.54,50.26 L734.42,49.78 L735.29,49.29 L736.17,48.81 L737.05,48.33 L737.92,47.84 L738.80,47.36 L739.67,46.87 L740.54,46.38 L741.42,45.90 L742.29,45.41 L743.16,44.92 L744.04,44.43 L744.91,43.95 L745.78,43.46 L746.65,42.97 L747.53,42.48 L748.40,41.99 L749.28,41.51 L750.15,41.02 L751.02,40.54 L751.90,40.05 L752.78,39.57 L753.65,39.09 L754.53,38.61 L755.41,38.14 L756.29,37.67 L757.18,37.19 L758.06,36.73 L758.94,36.26 L759.83,35.80 L760.72,35.34 L761.61,34.88 L762.50,34.43 L763.40,33.98 L764.29,33.54 L765.19,33.09 L766.09,32.66 L766.99,32.22 L767.89,31.79 L768.80,31.37 L769.71,30.95 L770.61,30.53 L771.53,30.12 L772.44,29.71 L773.35,29.31 L774.27,28.91 L775.19,28.51 L776.11,28.12 L777.03,27.74 L777.96,27.36 L778.89,26.99 L779.82,26.62 L780.75,26.25 L781.68,25.90 L782.62,25.54 L783.56,25.20 L784.50,24.86 L785.44,24.53 L786.39,24.20 L787.34,23.88 L788.29,23.57 L789.24,23.27 L790.20,22.98 L791.15,22.69 L792.12,22.42 L793.08,22.15 L794.05,21.90 L795.02,21.65 L795.99,21.42 L796.97,21.20 L797.95,21.00 L798.93,20.81 L799.91,20.63 L800.90,20.47 L801.89,20.32 L802.88,20.19 L803.87,20.08 L804.87,19.99 L805.87,19.91 L806.87,19.86 L807.86,19.82 L808.86,19.81 L809.86,19.81 L810.86,19.83 L811.86,19.88 L812.86,19.94 L813.86,20.03 L814.85,20.13 L815.85,20.25 L816.84,20.40 L817.82,20.56 L818.81,20.74 L819.79,20.94 L820.76,21.16 L821.73,21.40 L822.70,21.65 L823.66,21.92 L824.62,22.20 L825.58,22.50 L826.53,22.82 L827.47,23.15 L828.41,23.49 L829.34,23.85 L830.27,24.22 L831.19,24.61 L832.11,25.00 L833.03,25.41 L833.93,25.83 L834.84,26.26 L835.73,26.70 L836.63,27.15 L837.52,27.61 L838.40,28.08 L839.28,28.56 L840.15,29.05 L841.02,29.54 L841.89,30.04 L842.75,30.55 L843.61,31.06 L844.46,31.58 L845.31,32.11 L846.16,32.64 L847.01,33.17 L847.85,33.71 L848.69,34.25 L849.53,34.80 L850.36,35.35 L851.20,35.90 L852.03,36.46 L852.86,37.01 L853.69,37.57 L854.52,38.13 L855.34,38.70 L856.17,39.26 L856.99,39.82 L857.82,40.39 L858.64,40.96 L859.47,41.53 L860.29,42.10 L861.11,42.67 L861.93,43.24 L862.75,43.81 L863.57,44.38 L864.39,44.96 L865.21,45.53 L866.03,46.10 L866.85,46.68 L867.67,47.25 L868.49,47.83 L869.30,48.40 L870.12,48.98 L870.94,49.55 L871.76,50.13 L872.57,50.71 L873.39,51.28 L874.21,51.86 L875.02,52.44 L875.84,53.02 L876.66,53.59 L877.47,54.17 L878.29,54.75 L879.11,55.33 L879.92,55.91 L880.74,56.49 L881.55,57.06 L882.37,57.64 L883.18,58.22 L884.00,58.80" fill="none" stroke="#ee1c25" stroke-width="2.8" stroke-linecap="butt" stroke-linejoin="round" stroke-dasharray="14.5 15.54" stroke-dashoffset="0.7"/>

<path d="M126.00,16.00 L126.94,16.34 L127.88,16.67 L128.83,17.00 L129.78,17.32 L130.72,17.65 L131.67,17.98 L132.61,18.30 L133.56,18.64 L134.50,18.97 L135.44,19.32 L136.38,19.66 L137.31,20.02 L138.25,20.38 L139.18,20.74 L140.11,21.12 L141.03,21.50 L141.96,21.88 L142.88,22.28 L143.79,22.68 L144.71,23.08 L145.61,23.50 L146.52,23.93 L147.42,24.36 L148.32,24.81 L149.21,25.26 L150.10,25.72 L150.98,26.18 L151.86,26.66 L152.74,27.15 L153.61,27.64 L154.48,28.14 L155.34,28.65 L156.20,29.16 L157.05,29.68 L157.90,30.21 L158.74,30.75 L159.58,31.30 L160.41,31.85 L161.24,32.41 L162.07,32.98 L162.88,33.56 L163.70,34.14 L164.50,34.73 L165.30,35.33 L166.10,35.94 L166.89,36.56 L167.67,37.18 L168.45,37.81 L169.22,38.45 L169.98,39.10 L170.74,39.75 L171.49,40.41 L172.23,41.08 L172.97,41.76 L173.70,42.44 L174.42,43.13 L175.14,43.83 L175.85,44.53 L176.55,45.24 L177.25,45.96 L177.94,46.68 L178.63,47.41 L179.31,48.15 L179.98,48.89 L180.64,49.64 L181.30,50.39 L181.95,51.15 L182.60,51.92 L183.23,52.69 L183.86,53.47 L184.49,54.25 L185.10,55.04 L185.71,55.83 L186.32,56.63 L186.91,57.43 L187.50,58.24 L188.09,59.05 L188.67,59.87 L189.24,60.69 L189.81,61.51 L190.38,62.34 L190.93,63.16 L191.49,64.00 L192.04,64.83 L192.59,65.67 L193.13,66.51 L193.68,67.35 L194.21,68.19 L194.75,69.04 L195.28,69.89 L195.80,70.74 L196.33,71.59 L196.85,72.44 L197.37,73.30 L197.88,74.16 L198.39,75.02 L198.90,75.88 L199.41,76.74 L199.91,77.61 L200.41,78.47 L200.91,79.34 L201.41,80.21 L201.91,81.08 L202.40,81.95 L202.89,82.82 L203.38,83.69 L203.87,84.56 L204.36,85.44 L204.85,86.31 L205.33,87.19 L205.82,88.06 L206.30,88.94 L206.78,89.82 L207.25,90.70 L207.73,91.58 L208.19,92.46 L208.66,93.35 L209.12,94.24 L209.57,95.13 L210.02,96.02 L210.47,96.92 L210.90,97.82 L211.33,98.72 L211.76,99.63 L212.18,100.54 L212.59,101.45 L212.99,102.37 L213.39,103.28 L213.78,104.20 L214.17,105.13 L214.55,106.05 L214.92,106.98 L215.29,107.91 L215.66,108.84 L216.02,109.77 L216.38,110.71 L216.74,111.64 L217.09,112.58 L217.44,113.51 L217.79,114.45 L218.14,115.39 L218.48,116.33 L218.82,117.27 L219.16,118.21 L219.50,119.15 L219.84,120.10 L220.17,121.04 L220.51,121.98 L220.84,122.93 L221.17,123.87 L221.49,124.82 L221.82,125.76 L222.14,126.71 L222.46,127.66 L222.77,128.61 L223.09,129.56 L223.40,130.51 L223.70,131.46 L224.01,132.41 L224.31,133.37 L224.61,134.32 L224.91,135.28 L225.21,136.23 L225.50,137.19 L225.80,138.15 L226.09,139.10 L226.38,140.06 L226.67,141.02 L226.95,141.98 L227.24,142.94 L227.52,143.90 L227.80,144.86 L228.08,145.82 L228.36,146.78 L228.64,147.74 L228.92,148.70 L229.19,149.66 L229.47,150.62 L229.74,151.59 L230.01,152.55 L230.28,153.51 L230.55,154.48 L230.82,155.44 L231.09,156.40 L231.35,157.37 L231.61,158.33 L231.88,159.30 L232.14,160.27 L232.40,161.23 L232.66,162.20 L232.91,163.17 L233.17,164.13 L233.42,165.10 L233.67,166.07 L233.92,167.04 L234.17,168.01 L234.42,168.98 L234.67,169.95 L234.91,170.92 L235.15,171.89 L235.39,172.86 L235.63,173.83 L235.87,174.80 L236.11,175.77 L236.35,176.75 L236.58,177.72 L236.81,178.69 L237.04,179.66 L237.28,180.64 L237.50,181.61 L237.73,182.59 L237.96,183.56 L238.18,184.54 L238.41,185.51 L238.63,186.49 L238.85,187.46 L239.07,188.44 L239.28,189.42 L239.50,190.39 L239.71,191.37 L239.93,192.35 L240.13,193.33 L240.34,194.30 L240.55,195.28 L240.75,196.26 L240.95,197.24 L241.15,198.22 L241.34,199.21 L241.54,200.19 L241.72,201.17 L241.91,202.15 L242.09,203.14 L242.27,204.12 L242.44,205.11 L242.61,206.09 L242.77,207.08 L242.93,208.07 L243.09,209.06 L243.25,210.04 L243.40,211.03 L243.55,212.02 L243.70,213.01 L243.85,214.00 L244.00,214.99 L244.15,215.98 L244.30,216.97 L244.44,217.96 L244.60,218.95 L244.75,219.94 L244.90,220.93 L245.06,221.91 L245.22,222.90 L245.38,223.89 L245.54,224.88 L245.71,225.86 L245.88,226.85 L246.05,227.83 L246.22,228.82 L246.40,229.80 L246.59,230.79 L246.77,231.77 L246.96,232.75 L247.16,233.73 L247.36,234.71 L247.57,235.69 L247.78,236.67 L248.00,237.65 L248.23,238.62 L248.46,239.59 L248.70,240.57 L248.94,241.54 L249.19,242.51 L249.44,243.48 L249.70,244.44 L249.96,245.41 L250.23,246.37 L250.50,247.33 L250.78,248.29 L251.07,249.25 L251.36,250.21 L251.65,251.17 L251.94,252.12 L252.23,253.08 L252.52,254.04 L252.80,255.00 L253.13,254.06 L253.47,253.11 L253.81,252.17 L254.15,251.23 L254.50,250.29 L254.84,249.35 L255.18,248.40 L255.51,247.46 L255.84,246.51 L256.16,245.56 L256.47,244.61 L256.78,243.66 L257.08,242.70 L257.37,241.75 L257.66,240.79 L257.94,239.83 L258.22,238.86 L258.50,237.90 L258.76,236.94 L259.03,235.97 L259.29,235.00 L259.54,234.03 L259.79,233.06 L260.03,232.09 L260.27,231.12 L260.51,230.15 L260.74,229.17 L260.97,228.20 L261.20,227.22 L261.42,226.24 L261.64,225.27 L261.86,224.29 L262.08,223.31 L262.30,222.33 L262.51,221.36 L262.73,220.38 L262.95,219.40 L263.16,218.42 L263.38,217.45 L263.60,216.47 L263.82,215.49 L264.04,214.51 L264.27,213.54 L264.50,212.56 L264.73,211.59 L264.96,210.61 L265.20,209.64 L265.44,208.67 L265.68,207.70 L265.93,206.73 L266.19,205.76 L266.44,204.79 L266.70,203.82 L266.97,202.86 L267.23,201.89 L267.51,200.93 L267.78,199.96 L268.06,199.00 L268.35,198.04 L268.63,197.08 L268.92,196.12 L269.22,195.17 L269.51,194.21 L269.82,193.26 L270.12,192.30 L270.43,191.35 L270.74,190.40 L271.06,189.45 L271.38,188.50 L271.71,187.55 L272.04,186.61 L272.38,185.66 L272.72,184.72 L273.07,183.78 L273.43,182.85 L273.79,181.91 L274.16,180.98 L274.53,180.05 L274.92,179.13 L275.31,178.21 L275.70,177.29 L276.11,176.37 L276.53,175.46 L276.95,174.55 L277.38,173.65 L277.82,172.75 L278.27,171.85 L278.73,170.96 L279.19,170.07 L279.67,169.19 L280.15,168.31 L280.64,167.44 L281.14,166.57 L281.64,165.71 L282.16,164.85 L282.68,163.99 L283.21,163.14 L283.75,162.30 L284.29,161.46 L284.84,160.62 L285.40,159.79 L285.97,158.96 L286.54,158.14 L287.12,157.33 L287.71,156.51 L288.30,155.71 L288.90,154.91 L289.51,154.11 L290.13,153.32 L290.75,152.54 L291.38,151.76 L292.02,150.99 L292.67,150.22 L293.32,149.47 L293.99,148.72 L294.66,147.98 L295.34,147.24 L296.04,146.52 L296.74,145.81 L297.45,145.10 L298.17,144.41 L298.91,143.73 L299.65,143.06 L300.41,142.40 L301.17,141.75 L301.95,141.12 L302.73,140.50 L303.53,139.89 L304.34,139.30 L305.15,138.72 L305.98,138.15 L306.81,137.60 L307.66,137.05 L308.51,136.53 L309.37,136.01 L310.23,135.51 L311.11,135.02 L311.99,134.54 L312.88,134.08 L313.77,133.63 L314.67,133.19 L315.58,132.76 L316.49,132.34 L317.40,131.94 L318.33,131.55 L319.25,131.17 L320.19,130.81 L321.12,130.45 L322.07,130.11 L323.01,129.79 L323.96,129.48 L324.92,129.18 L325.88,128.89 L326.85,128.62 L327.81,128.37 L328.79,128.13 L329.76,127.90 L330.74,127.69 L331.72,127.50 L332.71,127.32 L333.70,127.15 L334.69,127.00 L335.68,126.87 L336.67,126.74 L337.67,126.64 L338.67,126.54 L339.67,126.46 L340.66,126.40 L341.67,126.35 L342.67,126.31 L343.67,126.28 L344.67,126.26 L345.67,126.26 L346.67,126.27 L347.67,126.29 L348.67,126.32 L349.67,126.37 L350.67,126.43 L351.67,126.49 L352.67,126.57 L353.67,126.67 L354.67,126.77 L355.66,126.88 L356.65,127.01 L357.65,127.15 L358.64,127.30 L359.62,127.47 L360.61,127.64 L361.59,127.83 L362.58,128.03 L363.55,128.25 L364.53,128.47 L365.50,128.71 L366.47,128.97 L367.44,129.23 L368.40,129.51 L369.36,129.80 L370.31,130.10 L371.26,130.41 L372.21,130.74 L373.16,131.08 L374.09,131.42 L375.03,131.78 L375.96,132.15 L376.89,132.53 L377.81,132.93 L378.73,133.33 L379.64,133.74 L380.55,134.16 L381.45,134.59 L382.35,135.03 L383.24,135.48 L384.13,135.94 L385.02,136.42 L385.90,136.90 L386.77,137.39 L387.64,137.89 L388.50,138.40 L389.35,138.92 L390.20,139.46 L391.04,140.00 L391.87,140.56 L392.70,141.12 L393.52,141.70 L394.33,142.29 L395.13,142.89 L395.92,143.50 L396.71,144.12 L397.49,144.75 L398.26,145.40 L399.02,146.05 L399.77,146.71 L400.51,147.38 L401.24,148.07 L401.97,148.76 L402.68,149.46 L403.39,150.17 L404.09,150.88 L404.78,151.61 L405.46,152.35 L406.13,153.09 L406.79,153.84 L407.45,154.60 L408.09,155.37 L408.73,156.14 L409.36,156.92 L409.98,157.71 L410.59,158.50 L411.19,159.30 L411.79,160.10 L412.38,160.91 L412.96,161.73 L413.54,162.54 L414.11,163.37 L414.68,164.19 L415.24,165.02 L415.79,165.86 L416.35,166.69 L416.89,167.53 L417.44,168.37 L417.98,169.22 L418.51,170.06 L419.05,170.91 L419.57,171.76 L420.10,172.62 L420.62,173.47 L421.13,174.33 L421.64,175.19 L422.15,176.06 L422.65,176.93 L423.14,177.80 L423.63,178.67 L424.11,179.55 L424.59,180.43 L425.05,181.32 L425.51,182.21 L425.97,183.10 L426.42,183.99 L426.86,184.89 L427.29,185.80 L427.71,186.70 L428.13,187.62 L428.54,188.53 L428.95,189.44 L429.34,190.36 L429.74,191.29 L430.12,192.21 L430.50,193.14 L430.87,194.07 L431.24,195.00 L431.60,195.93 L431.96,196.87 L432.31,197.81 L432.66,198.75 L433.00,199.69 L433.34,200.63 L433.67,201.57 L434.00,202.52 L434.33,203.47 L434.65,204.42 L434.97,205.37 L435.28,206.32 L435.59,207.27 L435.89,208.22 L436.20,209.18 L436.49,210.14 L436.79,211.09 L437.08,212.05 L437.36,213.01 L437.65,213.97 L437.93,214.93 L438.20,215.90 L438.47,216.86 L438.74,217.83 L439.01,218.79 L439.27,219.76 L439.53,220.73 L439.79,221.69 L440.04,222.66 L440.29,223.63 L440.54,224.60 L440.79,225.57 L441.03,226.55 L441.27,227.52 L441.50,228.49 L441.73,229.47 L441.96,230.44 L442.19,231.42 L442.41,232.39 L442.63,233.37 L442.85,234.35 L443.06,235.33 L443.27,236.31 L443.48,237.29 L443.68,238.27 L443.88,239.25 L444.08,240.23 L444.27,241.21 L444.46,242.20 L444.65,243.18 L444.84,244.17 L445.02,245.15 L445.20,246.14 L445.37,247.12 L445.54,248.11 L445.71,249.10 L445.88,250.08 L446.04,251.07 L446.20,252.06 L446.36,253.05 L446.51,254.04 L446.66,255.03 L446.81,256.02 L446.96,257.01 L447.10,258.00 L447.24,259.00 L447.38,259.99 L447.51,260.98 L447.65,261.97 L447.78,262.97 L447.90,263.96 L448.03,264.95 L448.15,265.95 L448.28,266.94 L448.40,267.94 L448.51,268.93 L448.63,269.92 L448.75,270.92 L448.86,271.91 L448.97,272.91 L449.08,273.91 L449.19,274.90 L449.30,275.90 L449.41,276.89 L449.52,277.89 L449.63,278.88 L449.73,279.88 L449.84,280.88 L449.95,281.87 L450.06,282.87 L450.17,283.86 L450.28,284.86 L450.39,285.85 L450.50,286.85 L450.61,287.84 L450.73,288.84 L450.85,289.83 L450.96,290.83 L451.08,291.82 L451.20,292.82 L451.32,293.81 L451.45,294.81 L451.57,295.80 L451.69,296.79 L451.81,297.79 L451.93,298.78 L452.05,299.78 L452.17,300.77 L452.29,301.77 L452.41,302.76 L452.52,303.76 L452.64,304.75 L452.75,305.75 L452.86,306.74 L452.97,307.74 L453.07,308.73 L453.17,309.73 L453.28,310.73 L453.37,311.72 L453.47,312.72 L453.56,313.72 L453.65,314.72 L453.74,315.71 L453.82,316.71 L453.90,317.71 L453.98,318.71 L454.05,319.71 L454.13,320.71 L454.20,321.70 L454.27,322.70 L454.35,323.70 L454.42,324.70 L454.50,325.70 L455.09,324.89 L455.70,324.10 L456.27,323.28 L456.76,322.40 L457.15,321.48 L457.47,320.54 L457.72,319.57 L457.94,318.59 L458.12,317.61 L458.27,316.62 L458.41,315.63 L458.54,314.64 L458.66,313.65 L458.78,312.65 L458.90,311.66 L459.02,310.67 L459.13,309.67 L459.24,308.68 L459.35,307.68 L459.45,306.69 L459.56,305.69 L459.66,304.70 L459.76,303.70 L459.86,302.71 L459.96,301.71 L460.05,300.72 L460.15,299.72 L460.25,298.73 L460.34,297.73 L460.43,296.73 L460.53,295.74 L460.62,294.74 L460.72,293.75 L460.81,292.75 L460.91,291.75 L461.00,290.76 L461.10,289.76 L461.19,288.77 L461.29,287.77 L461.38,286.78 L461.48,285.78 L461.57,284.78 L461.67,283.79 L461.76,282.79 L461.86,281.80 L461.95,280.80 L462.05,279.81 L462.15,278.81 L462.25,277.81 L462.35,276.82 L462.45,275.82 L462.55,274.83 L462.65,273.83 L462.75,272.84 L462.86,271.84 L462.96,270.85 L463.07,269.85 L463.18,268.86 L463.29,267.87 L463.40,266.87 L463.51,265.88 L463.62,264.88 L463.74,263.89 L463.86,262.90 L463.98,261.90 L464.10,260.91 L464.22,259.92 L464.34,258.93 L464.47,257.93 L464.59,256.94 L464.72,255.95 L464.85,254.96 L464.98,253.97 L465.11,252.97 L465.25,251.98 L465.38,250.99 L465.52,250.00 L465.66,249.01 L465.80,248.02 L465.94,247.03 L466.08,246.04 L466.22,245.05 L466.37,244.06 L466.51,243.07 L466.66,242.08 L466.81,241.09 L466.96,240.10 L467.11,239.11 L467.26,238.12 L467.41,237.13 L467.56,236.15 L467.71,235.16 L467.87,234.17 L468.02,233.18 L468.18,232.19 L468.34,231.21 L468.49,230.22 L468.65,229.23 L468.81,228.24 L468.98,227.26 L469.14,226.27 L469.31,225.28 L469.47,224.30 L469.64,223.31 L469.81,222.32 L469.98,221.34 L470.16,220.35 L470.33,219.37 L470.51,218.38 L470.69,217.40 L470.87,216.42 L471.06,215.43 L471.25,214.45 L471.44,213.47 L471.63,212.49 L471.83,211.51 L472.03,210.53 L472.23,209.55 L472.44,208.57 L472.65,207.59 L472.86,206.62 L473.08,205.64 L473.30,204.66 L473.53,203.69 L473.76,202.72 L473.99,201.74 L474.23,200.77 L474.47,199.80 L474.72,198.83 L474.97,197.86 L475.22,196.89 L475.48,195.93 L475.74,194.96 L476.00,194.00 L476.27,193.03 L476.54,192.07 L476.82,191.11 L477.10,190.15 L477.38,189.19 L477.66,188.23 L477.95,187.27 L478.24,186.31 L478.53,185.36 L478.83,184.40 L479.12,183.45 L479.42,182.49 L479.72,181.54 L480.03,180.59 L480.33,179.63 L480.64,178.68 L480.95,177.73 L481.26,176.78 L481.57,175.83 L481.89,174.88 L482.21,173.93 L482.52,172.98 L482.85,172.04 L483.17,171.09 L483.49,170.14 L483.82,169.20 L484.15,168.25 L484.48,167.31 L484.81,166.36 L485.15,165.42 L485.48,164.48 L485.82,163.54 L486.16,162.60 L486.51,161.66 L486.85,160.72 L487.20,159.78 L487.55,158.85 L487.90,157.91 L488.26,156.98 L488.62,156.04 L488.97,155.11 L489.34,154.17 L489.70,153.24 L490.07,152.31 L490.43,151.38 L490.80,150.45 L491.18,149.52 L491.55,148.60 L491.93,147.67 L492.31,146.74 L492.69,145.82 L493.07,144.90 L493.46,143.97 L493.85,143.05 L494.24,142.13 L494.64,141.21 L495.04,140.30 L495.44,139.38 L495.84,138.46 L496.25,137.55 L496.66,136.64 L497.07,135.73 L497.49,134.82 L497.91,133.91 L498.34,133.01 L498.77,132.10 L499.20,131.20 L499.64,130.30 L500.08,129.41 L500.53,128.51 L500.98,127.62 L501.43,126.73 L501.89,125.84 L502.36,124.95 L502.83,124.07 L503.30,123.19 L503.78,122.31 L504.27,121.44 L504.75,120.56 L505.25,119.69 L505.75,118.83 L506.25,117.96 L506.76,117.10 L507.27,116.24 L507.78,115.38 L508.30,114.53 L508.83,113.68 L509.36,112.83 L509.89,111.98 L510.43,111.14 L510.97,110.30 L511.52,109.46 L512.06,108.62 L512.62,107.79 L513.17,106.96 L513.74,106.13 L514.30,105.30 L514.87,104.48 L515.44,103.66 L516.01,102.84 L516.59,102.02 L517.18,101.21 L517.76,100.40 L518.35,99.59 L518.94,98.79 L519.54,97.99 L520.14,97.19 L520.75,96.39 L521.36,95.59 L521.97,94.80 L522.58,94.02 L523.20,93.23 L523.83,92.45 L524.46,91.67 L525.09,90.90 L525.72,90.12 L526.37,89.36 L527.01,88.59 L527.66,87.83 L528.31,87.07 L528.97,86.32 L529.63,85.57 L530.30,84.83 L530.97,84.08 L531.65,83.35 L532.33,82.61 L533.01,81.88 L533.70,81.16 L534.40,80.44 L535.09,79.72 L535.80,79.01 L536.50,78.30 L537.21,77.59 L537.93,76.89 L538.64,76.20 L539.36,75.50 L540.09,74.81 L540.82,74.13 L541.55,73.45 L542.28,72.77 L543.02,72.09 L543.76,71.42 L544.50,70.75 L545.25,70.08 L545.99,69.41 L546.74,68.75 L547.49,68.09 L548.24,67.43 L549.00,66.77 L549.76,66.12 L550.52,65.47 L551.28,64.82 L552.04,64.17 L552.80,63.53 L553.57,62.88 L554.34,62.24 L555.11,61.61 L555.89,60.97 L556.66,60.35 L557.44,59.72 L558.23,59.10 L559.01,58.48 L559.81,57.87 L560.60,57.26 L561.40,56.66 L562.21,56.07 L563.01,55.48 L563.83,54.90 L564.65,54.32 L565.47,53.75 L566.30,53.19 L567.13,52.64 L567.97,52.10 L568.81,51.56 L569.66,51.03 L570.52,50.51 L571.38,49.99 L572.24,49.49 L573.11,48.99 L573.98,48.50 L574.85,48.02 L575.73,47.54 L576.62,47.07 L577.50,46.61 L578.40,46.16 L579.29,45.71 L580.19,45.26 L581.09,44.83 L581.99,44.40 L582.89,43.97 L583.80,43.55 L584.71,43.14 L585.63,42.73 L586.54,42.32 L587.46,41.92 L588.38,41.53 L589.30,41.14 L590.22,40.75 L591.14,40.37 L592.07,39.99 L593.00,39.61 L593.92,39.24 L594.85,38.87 L595.79,38.51 L596.72,38.15 L597.65,37.79 L598.59,37.44 L599.53,37.09 L600.47,36.74 L601.41,36.40 L602.35,36.06 L603.29,35.73 L604.23,35.40 L605.18,35.07 L606.13,34.75 L607.08,34.44 L608.03,34.12 L608.98,33.81 L609.93,33.51 L610.88,33.21 L611.84,32.91 L612.80,32.62 L613.75,32.33 L614.71,32.05 L615.67,31.77 L616.64,31.50 L617.60,31.23 L618.56,30.96 L619.53,30.70 L620.50,30.45 L621.47,30.20 L622.44,29.95 L623.41,29.71 L624.38,29.47 L625.35,29.24 L626.32,29.01 L627.30,28.79 L628.27,28.57 L629.25,28.35 L630.23,28.14 L631.21,27.93 L632.19,27.73 L633.17,27.52 L634.15,27.33 L635.13,27.14 L636.11,26.95 L637.09,26.76 L638.08,26.58 L639.06,26.41 L640.05,26.23 L641.03,26.06 L642.02,25.90 L643.01,25.74 L644.00,25.58 L644.98,25.43 L645.97,25.28 L646.96,25.13 L647.95,24.99 L648.94,24.85 L649.93,24.71 L650.93,24.58 L651.92,24.46 L652.91,24.33 L653.90,24.21 L654.90,24.10 L655.89,23.99 L656.89,23.88 L657.88,23.78 L658.88,23.68 L659.87,23.58 L660.87,23.49 L661.86,23.40 L662.86,23.31 L663.86,23.23 L664.85,23.15 L665.85,23.08 L666.85,23.00 L667.85,22.94 L668.85,22.87 L669.84,22.81 L670.84,22.75 L671.84,22.70 L672.84,22.65 L673.84,22.60 L674.84,22.56 L675.84,22.51 L676.84,22.48 L677.84,22.44 L678.84,22.41 L679.84,22.38 L680.84,22.36 L681.84,22.34 L682.84,22.32 L683.84,22.31 L684.84,22.30 L685.84,22.30 L686.84,22.30 L687.84,22.30 L688.84,22.31 L689.84,22.32 L690.84,22.34 L691.84,22.36 L692.84,22.39 L693.84,22.43 L694.84,22.47 L695.84,22.51 L696.84,22.56 L697.84,22.62 L698.83,22.68 L699.83,22.75 L700.83,22.83 L701.83,22.91 L702.82,23.00 L703.82,23.10 L704.81,23.20 L705.81,23.31 L706.80,23.43 L707.79,23.55 L708.79,23.68 L709.78,23.82 L710.77,23.96 L711.75,24.11 L712.74,24.27 L713.73,24.44 L714.71,24.61 L715.70,24.79 L716.68,24.97 L717.66,25.16 L718.64,25.36 L719.62,25.57 L720.60,25.78 L721.58,26.00 L722.55,26.22 L723.52,26.46 L724.49,26.70 L725.46,26.95 L726.43,27.20 L727.40,27.46 L728.36,27.73 L729.32,28.01 L730.28,28.30 L731.24,28.59 L732.19,28.89 L733.14,29.19 L734.09,29.51 L735.04,29.83 L735.98,30.16 L736.93,30.49 L737.87,30.84 L738.80,31.19 L739.74,31.55 L740.67,31.92 L741.59,32.29 L742.52,32.67 L743.44,33.06 L744.36,33.46 L745.27,33.87 L746.18,34.28 L747.09,34.70 L747.99,35.13 L748.89,35.57 L749.78,36.02 L750.67,36.48 L751.56,36.95 L752.44,37.43 L753.31,37.91 L754.18,38.41 L755.04,38.92 L755.89,39.44 L756.74,39.97 L757.58,40.52 L758.41,41.07 L759.23,41.64 L760.05,42.22 L760.85,42.81 L761.65,43.42 L762.44,44.03 L763.22,44.66 L763.99,45.30 L764.74,45.96 L765.49,46.62 L766.23,47.30 L766.95,47.99 L767.67,48.68 L768.37,49.39 L769.07,50.11 L769.75,50.84 L770.43,51.58 L771.09,52.33 L771.74,53.09 L772.38,53.86 L773.02,54.63 L773.64,55.42 L774.25,56.21 L774.85,57.01 L775.44,57.81 L776.03,58.62 L776.60,59.44 L777.17,60.27 L777.72,61.10 L778.27,61.94 L778.81,62.78 L779.34,63.63 L779.86,64.49 L780.37,65.34 L780.87,66.21 L781.37,67.08 L781.86,67.95 L782.34,68.83 L782.81,69.71 L783.27,70.59 L783.73,71.48 L784.18,72.38 L784.63,73.27 L785.06,74.17 L785.49,75.08 L785.92,75.98 L786.33,76.89 L786.74,77.80 L787.15,78.72 L787.55,79.64 L787.94,80.56 L788.33,81.48 L788.71,82.40 L789.08,83.33 L789.46,84.26 L789.82,85.19 L790.18,86.12 L790.54,87.06 L790.89,87.99 L791.24,88.93 L791.58,89.87 L791.91,90.82 L792.25,91.76 L792.58,92.70 L792.90,93.65 L793.22,94.60 L793.54,95.55 L793.85,96.50 L794.16,97.45 L794.46,98.40 L794.76,99.35 L795.06,100.31 L795.35,101.27 L795.64,102.22 L795.93,103.18 L796.22,104.14 L796.50,105.10 L796.78,106.06 L797.05,107.02 L797.32,107.98 L797.60,108.95 L797.87,109.91 L798.13,110.87 L798.40,111.84 L798.66,112.80 L798.93,113.77 L799.19,114.73 L799.45,115.70 L799.71,116.67 L799.97,117.63 L800.22,118.60 L800.48,119.56 L800.74,120.53 L801.00,121.50 L801.26,122.46 L801.52,123.43 L801.77,124.40 L802.03,125.36 L802.29,126.33 L802.56,127.29 L802.82,128.26 L803.09,129.22 L803.36,130.19 L803.63,131.15 L803.90,132.11 L804.18,133.07 L804.46,134.03 L804.76,134.99 L805.06,135.94 L805.39,136.89 L805.73,137.82 L806.11,138.75 L806.51,139.67 L806.96,140.56 L807.47,141.42 L808.07,142.22 L808.79,142.91 L809.60,143.50 L810.27,142.75 L810.93,142.00 L811.55,141.20 L812.13,140.39 L812.67,139.54 L813.17,138.67 L813.63,137.78 L814.06,136.87 L814.46,135.95 L814.85,135.02 L815.21,134.09 L815.57,133.15 L815.91,132.20 L816.23,131.26 L816.54,130.30 L816.84,129.34 L817.14,128.38 L817.42,127.42 L817.69,126.45 L817.96,125.49 L818.22,124.52 L818.48,123.55 L818.73,122.58 L818.99,121.60 L819.24,120.63 L819.49,119.66 L819.74,118.69 L819.99,117.72 L820.24,116.75 L820.49,115.77 L820.75,114.80 L821.00,113.83 L821.26,112.86 L821.51,111.89 L821.77,110.92 L822.03,109.95 L822.29,108.98 L822.55,108.01 L822.81,107.04 L823.07,106.07 L823.34,105.10 L823.61,104.14 L823.88,103.17 L824.15,102.20 L824.42,101.24 L824.70,100.27 L824.98,99.31 L825.26,98.34 L825.54,97.38 L825.83,96.42 L826.12,95.46 L826.42,94.50 L826.72,93.54 L827.02,92.58 L827.32,91.63 L827.63,90.67 L827.94,89.72 L828.26,88.76 L828.57,87.81 L828.90,86.86 L829.23,85.91 L829.56,84.97 L829.90,84.02 L830.25,83.08 L830.60,82.14 L830.96,81.20 L831.32,80.27 L831.69,79.33 L832.07,78.40 L832.45,77.48 L832.85,76.55 L833.24,75.63 L833.65,74.71 L834.06,73.80 L834.48,72.89 L834.91,71.98 L835.34,71.07 L835.78,70.17 L836.23,69.27 L836.69,68.38 L837.15,67.48 L837.61,66.60 L838.09,65.71 L838.56,64.83 L839.05,63.95 L839.54,63.07 L840.04,62.20 L840.54,61.33 L841.05,60.47 L841.57,59.61 L842.09,58.75 L842.61,57.89 L843.15,57.04 L843.69,56.20 L844.24,55.36 L844.79,54.52 L845.35,53.69 L845.92,52.86 L846.50,52.04 L847.09,51.23 L847.68,50.42 L848.29,49.62 L848.90,48.82 L849.53,48.04 L850.16,47.26 L850.81,46.49 L851.46,45.73 L852.13,44.98 L852.80,44.24 L853.49,43.50 L854.18,42.78 L854.89,42.06 L855.60,41.36 L856.33,40.66 L857.06,39.98 L857.80,39.30 L858.56,38.64 L859.32,37.99 L860.09,37.35 L860.87,36.72 L861.66,36.10 L862.46,35.49 L863.27,34.90 L864.09,34.31 L864.92,33.74 L865.75,33.19 L866.60,32.65 L867.45,32.11 L868.31,31.60 L869.18,31.09 L870.05,30.60 L870.93,30.11 L871.82,29.64 L872.71,29.18 L873.60,28.73 L874.50,28.29 L875.41,27.85 L876.32,27.43 L877.23,27.01 L878.15,26.60 L879.06,26.19 L879.99,25.79 L880.91,25.40 L881.83,25.01 L882.76,24.62 L883.69,24.24 L884.62,23.87 L885.56,23.50 L886.49,23.14 L887.43,22.78 L888.37,22.43 L889.31,22.08 L890.26,21.74 L891.21,21.41 L892.16,21.09 L893.11,20.76 L894.05,20.44 L895.00,20.10" fill="none" stroke="#1464e6" stroke-width="2.9" stroke-linecap="butt" stroke-linejoin="round" stroke-dasharray="5 12.72" stroke-dashoffset="1.29"/>

<path d="M125.90,230.30 L126.68,229.67 L127.45,229.03 L128.21,228.38 L128.97,227.74 L129.74,227.09 L130.50,226.44 L131.27,225.81 L132.05,225.18 L132.84,224.56 L133.63,223.95 L134.43,223.34 L135.24,222.75 L136.05,222.17 L136.87,221.59 L137.69,221.02 L138.52,220.46 L139.35,219.90 L140.19,219.35 L141.03,218.81 L141.87,218.27 L142.72,217.74 L143.57,217.21 L144.42,216.69 L145.28,216.18 L146.14,215.67 L147.01,215.17 L147.88,214.67 L148.75,214.18 L149.63,213.70 L150.51,213.22 L151.39,212.75 L152.28,212.29 L153.17,211.83 L154.06,211.38 L154.96,210.93 L155.86,210.49 L156.76,210.06 L157.66,209.64 L158.57,209.22 L159.49,208.81 L160.40,208.41 L161.32,208.01 L162.24,207.62 L163.17,207.24 L164.10,206.87 L165.03,206.50 L165.97,206.15 L166.90,205.80 L167.84,205.46 L168.79,205.12 L169.74,204.80 L170.69,204.49 L171.64,204.18 L172.59,203.89 L173.55,203.60 L174.52,203.32 L175.48,203.06 L176.45,202.80 L177.42,202.56 L178.39,202.33 L179.37,202.10 L180.35,201.89 L181.33,201.70 L182.31,201.51 L183.29,201.33 L184.28,201.17 L185.27,201.02 L186.26,200.88 L187.26,200.75 L188.25,200.64 L189.24,200.54 L190.24,200.45 L191.24,200.37 L192.24,200.30 L193.24,200.25 L194.24,200.20 L195.24,200.17 L196.24,200.15 L197.24,200.14 L198.24,200.14 L199.24,200.16 L200.24,200.18 L201.24,200.21 L202.24,200.25 L203.24,200.30 L204.24,200.36 L205.24,200.43 L206.23,200.51 L207.23,200.60 L208.23,200.69 L209.22,200.79 L210.22,200.90 L211.21,201.02 L212.21,201.14 L213.20,201.27 L214.19,201.40 L215.18,201.54 L216.17,201.69 L217.16,201.85 L218.15,202.00 L219.13,202.17 L220.12,202.34 L221.11,202.51 L222.09,202.69 L223.07,202.88 L224.06,203.07 L225.04,203.26 L226.02,203.45 L227.00,203.65 L227.98,203.85 L228.96,204.06 L229.94,204.26 L230.92,204.47 L231.90,204.68 L232.88,204.89 L233.86,205.09 L234.84,205.30 L235.82,205.50 L236.80,205.71 L237.78,205.91 L238.76,206.11 L239.74,206.30 L240.72,206.49 L241.70,206.68 L242.69,206.87 L243.67,207.05 L244.66,207.22 L245.64,207.40 L246.63,207.56 L247.62,207.73 L248.60,207.88 L249.59,208.04 L250.58,208.19 L251.57,208.33 L252.56,208.48 L253.55,208.62 L254.55,208.75 L255.54,208.88 L256.53,209.01 L257.52,209.14 L258.52,209.26 L259.51,209.38 L260.50,209.49 L261.50,209.61 L262.49,209.72 L263.49,209.83 L264.48,209.94 L265.48,210.04 L266.47,210.15 L267.47,210.25 L268.46,210.35 L269.46,210.44 L270.46,210.54 L271.45,210.63 L272.45,210.73 L273.45,210.82 L274.44,210.91 L275.44,210.99 L276.44,211.08 L277.43,211.16 L278.43,211.24 L279.43,211.32 L280.43,211.40 L281.42,211.48 L282.42,211.55 L283.42,211.63 L284.42,211.70 L285.42,211.77 L286.42,211.84 L287.41,211.90 L288.41,211.97 L289.41,212.03 L290.41,212.09 L291.41,212.15 L292.41,212.20 L293.41,212.26 L294.41,212.31 L295.41,212.36 L296.41,212.41 L297.41,212.45 L298.41,212.50 L299.41,212.54 L300.41,212.57 L301.41,212.61 L302.41,212.64 L303.41,212.66 L304.41,212.69 L305.41,212.71 L306.41,212.72 L307.41,212.73 L308.41,212.74 L309.41,212.74 L310.41,212.73 L311.41,212.72 L312.41,212.70 L313.41,212.67 L314.41,212.64 L315.41,212.60 L316.41,212.55 L317.41,212.50 L318.41,212.44 L319.41,212.37 L320.41,212.29 L321.40,212.20 L322.40,212.11 L323.40,212.01 L324.39,211.90 L325.38,211.78 L326.38,211.66 L327.37,211.53 L328.36,211.39 L329.35,211.25 L330.34,211.10 L331.33,210.94 L332.32,210.78 L333.30,210.62 L334.29,210.45 L335.28,210.27 L336.26,210.10 L337.25,209.92 L338.23,209.73 L339.21,209.54 L340.19,209.35 L341.18,209.16 L342.16,208.96 L343.14,208.76 L344.12,208.56 L345.10,208.36 L346.08,208.15 L347.06,207.94 L348.03,207.72 L349.01,207.51 L349.99,207.29 L350.96,207.07 L351.94,206.84 L352.91,206.61 L353.88,206.38 L354.86,206.14 L355.83,205.90 L356.80,205.65 L357.77,205.40 L358.73,205.15 L359.70,204.89 L360.67,204.62 L361.63,204.35 L362.59,204.08 L363.55,203.80 L364.51,203.52 L365.47,203.23 L366.43,202.94 L367.38,202.64 L368.34,202.33 L369.29,202.03 L370.24,201.71 L371.19,201.40 L372.14,201.08 L373.08,200.75 L374.03,200.42 L374.97,200.09 L375.91,199.75 L376.85,199.41 L377.79,199.06 L378.73,198.71 L379.67,198.36 L380.60,198.00 L381.54,197.64 L382.47,197.28 L383.40,196.92 L384.33,196.55 L385.26,196.18 L386.19,195.81 L387.12,195.43 L388.05,195.05 L388.97,194.67 L389.90,194.29 L390.82,193.90 L391.74,193.52 L392.66,193.13 L393.58,192.73 L394.50,192.34 L395.42,191.94 L396.34,191.54 L397.26,191.14 L398.17,190.74 L399.09,190.33 L400.00,189.93 L400.92,189.52 L401.83,189.11 L402.74,188.69 L403.65,188.28 L404.56,187.86 L405.47,187.45 L406.38,187.03 L407.29,186.60 L408.19,186.18 L409.10,185.76 L410.00,185.33 L410.91,184.90 L411.81,184.47 L412.72,184.04 L413.62,183.61 L414.52,183.18 L415.42,182.74 L416.32,182.31 L417.22,181.87 L418.12,181.43 L419.02,180.99 L419.92,180.55 L420.82,180.11 L421.72,179.67 L422.61,179.22 L423.51,178.78 L424.41,178.33 L425.30,177.89 L426.20,177.44 L427.09,176.99 L427.99,176.55 L428.88,176.10 L429.78,175.65 L430.67,175.20 L431.57,174.75 L432.46,174.30 L433.35,173.85 L434.25,173.40 L435.14,172.95 L436.04,172.50 L436.93,172.05 L437.82,171.60 L438.72,171.15 L439.61,170.70 L440.51,170.25 L441.40,169.81 L442.30,169.36 L443.19,168.91 L444.08,168.46 L444.98,168.01 L445.87,167.56 L446.77,167.11 L447.66,166.67 L448.56,166.22 L449.45,165.77 L450.35,165.32 L451.24,164.88 L452.14,164.43 L453.03,163.98 L453.93,163.53 L454.83,163.09 L455.72,162.64 L456.62,162.20 L457.51,161.75 L458.41,161.30 L459.31,160.86 L460.20,160.41 L461.10,159.97 L461.99,159.53 L462.89,159.08 L463.79,158.64 L464.69,158.19 L465.58,157.75 L466.48,157.31 L467.38,156.87 L468.28,156.42 L469.17,155.98 L470.07,155.54 L470.97,155.10 L471.87,154.65 L472.76,154.21 L473.66,153.77 L474.56,153.33 L475.46,152.88 L476.35,152.44 L477.25,152.00 L478.15,151.56 L479.05,151.11 L479.94,150.67 L480.84,150.22 L481.74,149.78 L482.63,149.33 L483.53,148.89 L484.42,148.44 L485.32,148.00 L486.21,147.55 L487.11,147.10 L488.00,146.65 L488.90,146.20 L489.79,145.75 L490.69,145.30 L491.58,144.85 L492.47,144.40 L493.36,143.94 L494.25,143.49 L495.15,143.03 L496.04,142.58 L496.93,142.12 L497.82,141.67 L498.71,141.21 L499.60,140.75 L500.49,140.29 L501.38,139.84 L502.27,139.38 L503.16,138.92 L504.05,138.46 L504.94,138.00 L505.83,137.54 L506.71,137.08 L507.60,136.62 L508.49,136.16 L509.38,135.70 L510.27,135.24 L511.16,134.78 L512.05,134.32 L512.94,133.86 L513.82,133.40 L514.71,132.94 L515.60,132.48 L516.49,132.02 L517.38,131.56 L518.27,131.10 L519.16,130.64 L520.05,130.18 L520.94,129.72 L521.83,129.26 L522.71,128.81 L523.60,128.35 L524.49,127.89 L525.38,127.43 L526.27,126.97 L527.16,126.51 L528.05,126.05 L528.94,125.59 L529.83,125.14 L530.72,124.68 L531.61,124.22 L532.50,123.77 L533.39,123.31 L534.28,122.86 L535.18,122.40 L536.07,121.95 L536.96,121.50 L537.86,121.05 L538.75,120.60 L539.65,120.16 L540.55,119.72 L541.44,119.28 L542.34,118.84 L543.25,118.40 L544.15,117.97 L545.05,117.54 L545.96,117.12 L546.87,116.70 L547.78,116.28 L548.69,115.87 L549.60,115.46 L550.52,115.06 L551.44,114.66 L552.36,114.26 L553.28,113.87 L554.20,113.49 L555.13,113.11 L556.05,112.73 L556.98,112.36 L557.92,111.99 L558.85,111.63 L559.78,111.28 L560.72,110.92 L561.66,110.57 L562.60,110.23 L563.54,109.89 L564.48,109.55 L565.43,109.22 L566.37,108.89 L567.32,108.57 L568.27,108.25 L569.21,107.93 L570.16,107.61 L571.11,107.30 L572.07,106.99 L573.02,106.68 L573.97,106.38 L574.92,106.08 L575.88,105.77 L576.83,105.48 L577.79,105.18 L578.75,104.88 L579.70,104.59 L580.66,104.30 L581.62,104.01 L582.58,103.72 L583.54,103.44 L584.50,103.15 L585.46,102.87 L586.42,102.59 L587.38,102.31 L588.34,102.03 L589.30,101.75 L590.26,101.47 L591.22,101.20 L592.19,100.93 L593.15,100.65 L594.11,100.38 L595.08,100.11 L596.04,99.84 L597.00,99.57 L597.97,99.31 L598.93,99.04 L599.90,98.77 L600.86,98.51 L601.83,98.24 L602.79,97.98 L603.76,97.71 L604.72,97.45 L605.69,97.18 L606.65,96.92 L607.62,96.65 L608.58,96.39 L609.55,96.12 L610.51,95.86 L611.48,95.59 L612.44,95.32 L613.41,95.06 L614.37,94.79 L615.33,94.52 L616.30,94.26 L617.26,93.99 L618.23,93.72 L619.19,93.45 L620.15,93.18 L621.12,92.91 L622.08,92.64 L623.05,92.37 L624.01,92.10 L624.97,91.83 L625.94,91.56 L626.90,91.28 L627.86,91.01 L628.82,90.74 L629.79,90.46 L630.75,90.19 L631.71,89.92 L632.67,89.64 L633.64,89.37 L634.60,89.09 L635.56,88.82 L636.52,88.54 L637.49,88.27 L638.45,87.99 L639.41,87.71 L640.37,87.44 L641.33,87.16 L642.29,86.88 L643.26,86.61 L644.22,86.33 L645.18,86.05 L646.14,85.77 L647.10,85.49 L648.06,85.21 L649.02,84.94 L649.98,84.66 L650.94,84.38 L651.91,84.10 L652.87,83.82 L653.83,83.54 L654.79,83.26 L655.75,82.97 L656.71,82.69 L657.67,82.41 L658.63,82.12 L659.59,81.84 L660.55,81.55 L661.50,81.27 L662.46,80.98 L663.42,80.69 L664.38,80.40 L665.33,80.10 L666.29,79.81 L667.25,79.51 L668.20,79.22 L669.16,78.92 L670.11,78.61 L671.07,78.31 L672.02,78.00 L672.97,77.70 L673.92,77.38 L674.87,77.07 L675.82,76.75 L676.77,76.43 L677.72,76.11 L678.66,75.79 L679.61,75.46 L680.55,75.13 L681.50,74.79 L682.44,74.45 L683.38,74.11 L684.32,73.77 L685.26,73.42 L686.19,73.07 L687.13,72.71 L688.06,72.35 L689.00,71.99 L689.93,71.63 L690.86,71.26 L691.78,70.88 L692.71,70.50 L693.64,70.12 L694.56,69.74 L695.48,69.35 L696.40,68.96 L697.32,68.56 L698.24,68.16 L699.15,67.76 L700.07,67.35 L700.98,66.94 L701.89,66.52 L702.80,66.10 L703.71,65.68 L704.61,65.26 L705.52,64.83 L706.42,64.40 L707.32,63.96 L708.22,63.53 L709.12,63.09 L710.02,62.64 L710.92,62.20 L711.81,61.75 L712.70,61.30 L713.60,60.85 L714.49,60.39 L715.38,59.93 L716.27,59.48 L717.16,59.02 L718.04,58.55 L718.93,58.09 L719.82,57.62 L720.70,57.16 L721.59,56.69 L722.47,56.22 L723.36,55.75 L724.24,55.28 L725.12,54.81 L726.00,54.34 L726.88,53.86 L727.77,53.39 L728.65,52.91 L729.53,52.44 L730.41,51.96 L731.29,51.48 L732.16,51.00 L733.04,50.52 L733.92,50.04 L734.80,49.56 L735.67,49.08 L736.55,48.60 L737.43,48.11 L738.30,47.63 L739.18,47.14 L740.05,46.65 L740.93,46.17 L741.80,45.68 L742.67,45.19 L743.55,44.70 L744.42,44.22 L745.29,43.73 L746.17,43.24 L747.04,42.75 L747.92,42.26 L748.79,41.78 L749.66,41.29 L750.54,40.81 L751.42,40.32 L752.29,39.84 L753.17,39.36 L754.05,38.88 L754.93,38.40 L755.81,37.93 L756.69,37.45 L757.57,36.98 L758.46,36.52 L759.35,36.05 L760.23,35.59 L761.12,35.13 L762.01,34.68 L762.91,34.23 L763.80,33.78 L764.70,33.33 L765.60,32.89 L766.50,32.46 L767.40,32.03 L768.31,31.60 L769.21,31.18 L770.12,30.76 L771.03,30.34 L771.95,29.93 L772.86,29.52 L773.78,29.12 L774.70,28.73 L775.62,28.33 L776.54,27.95 L777.46,27.56 L778.39,27.19 L779.32,26.81 L780.25,26.45 L781.18,26.09 L782.12,25.73 L783.06,25.38 L784.00,25.04 L784.94,24.70 L785.88,24.37 L786.83,24.05 L787.78,23.73 L788.73,23.43 L789.69,23.13 L790.65,22.84 L791.61,22.56 L792.57,22.29 L793.54,22.03 L794.51,21.78 L795.48,21.54 L796.45,21.32 L797.43,21.10 L798.41,20.90 L799.40,20.72 L800.38,20.55 L801.37,20.40 L802.36,20.26 L803.36,20.14 L804.35,20.03 L805.35,19.95 L806.35,19.88 L807.35,19.84 L808.35,19.81 L809.35,19.80 L810.35,19.82 L811.35,19.85 L812.35,19.91 L813.35,19.98 L814.34,20.07 L815.34,20.19 L816.33,20.32 L817.32,20.48 L818.30,20.65 L819.29,20.84 L820.26,21.05 L821.24,21.27 L822.21,21.52 L823.18,21.78 L824.14,22.06 L825.09,22.35 L826.05,22.66 L826.99,22.98 L827.94,23.32 L828.87,23.67 L829.80,24.04 L830.73,24.41 L831.65,24.80 L832.57,25.21 L833.48,25.62 L834.39,26.05 L835.29,26.48 L836.18,26.93 L837.07,27.38 L837.96,27.85 L838.84,28.32 L839.72,28.80 L840.59,29.29 L841.46,29.79 L842.32,30.30 L843.18,30.81 L844.04,31.32 L844.89,31.85 L845.74,32.37 L846.59,32.91 L847.43,33.44 L848.28,33.99 L849.12,34.53 L849.95,35.08 L850.79,35.63 L851.62,36.18 L852.45,36.74 L853.28,37.30 L854.11,37.86 L854.94,38.42 L855.77,38.98 L856.59,39.55 L857.42,40.12 L858.24,40.68 L859.07,41.25 L859.89,41.82 L860.71,42.39 L861.53,42.96 L862.36,43.54 L863.18,44.11 L864.00,44.68 L864.82,45.26 L865.64,45.83 L866.45,46.40 L867.27,46.98 L868.09,47.55 L868.91,48.13 L869.73,48.71 L870.55,49.28 L871.37,49.86 L872.18,50.44 L873.00,51.01 L873.82,51.59 L874.63,52.17 L875.45,52.75 L876.27,53.33 L877.09,53.90 L877.90,54.48 L878.72,55.06 L879.53,55.64 L880.35,56.22 L881.17,56.80 L881.98,57.38 L882.80,57.96 L883.61,58.54 L884.43,59.12 L885.25,59.70 L886.06,60.28 L886.88,60.86 L887.69,61.44 L888.50,62.02 L889.32,62.60 L890.13,63.19 L890.95,63.77 L891.76,64.35 L892.57,64.93 L893.39,65.52 L894.20,66.10" fill="none" stroke="#11994a" stroke-width="2.6" stroke-linecap="round" stroke-linejoin="round" stroke-dasharray="0.5 5.4" stroke-dashoffset="0"/>

<path d="M172.50,440.00 L172.58,439.00 L172.66,438.01 L172.73,437.01 L172.81,436.01 L172.89,435.01 L172.96,434.02 L173.04,433.02 L173.11,432.02 L173.19,431.02 L173.27,430.03 L173.34,429.03 L173.42,428.03 L173.49,427.03 L173.57,426.04 L173.64,425.04 L173.72,424.04 L173.80,423.05 L173.87,422.05 L173.95,421.05 L174.02,420.05 L174.10,419.06 L174.17,418.06 L174.25,417.06 L174.32,416.06 L174.40,415.07 L174.47,414.07 L174.55,413.07 L174.63,412.07 L174.70,411.08 L174.78,410.08 L174.85,409.08 L174.93,408.08 L175.01,407.09 L175.08,406.09 L175.16,405.09 L175.24,404.10 L175.32,403.10 L175.39,402.10 L175.47,401.10 L175.55,400.11 L175.63,399.11 L175.71,398.11 L175.79,397.11 L175.86,396.12 L175.94,395.12 L176.02,394.12 L176.11,393.13 L176.19,392.13 L176.27,391.13 L176.35,390.14 L176.43,389.14 L176.52,388.14 L176.60,387.15 L176.68,386.15 L176.77,385.15 L176.85,384.16 L176.94,383.16 L177.02,382.16 L177.11,381.17 L177.20,380.17 L177.28,379.17 L177.37,378.18 L177.46,377.18 L177.55,376.18 L177.64,375.19 L177.73,374.19 L177.82,373.20 L177.92,372.20 L178.01,371.20 L178.10,370.21 L178.20,369.21 L178.29,368.22 L178.39,367.22 L178.48,366.23 L178.58,365.23 L178.67,364.23 L178.77,363.24 L178.87,362.24 L178.97,361.25 L179.06,360.25 L179.16,359.26 L179.26,358.26 L179.36,357.27 L179.46,356.27 L179.56,355.27 L179.66,354.28 L179.76,353.28 L179.86,352.29 L179.96,351.29 L180.06,350.30 L180.16,349.30 L180.26,348.31 L180.36,347.31 L180.45,346.32 L180.55,345.32 L180.65,344.33 L180.75,343.33 L180.85,342.34 L180.95,341.34 L181.05,340.35 L181.15,339.35 L181.25,338.35 L181.35,337.36 L181.44,336.36 L181.54,335.37 L181.64,334.37 L181.73,333.38 L181.83,332.38 L181.93,331.39 L182.02,330.39 L182.12,329.39 L182.21,328.40 L182.31,327.40 L182.40,326.41 L182.49,325.41 L182.59,324.42 L182.68,323.42 L182.77,322.42 L182.86,321.43 L182.95,320.43 L183.04,319.43 L183.13,318.44 L183.22,317.44 L183.31,316.45 L183.39,315.45 L183.48,314.45 L183.57,313.46 L183.65,312.46 L183.74,311.46 L183.82,310.47 L183.91,309.47 L183.99,308.47 L184.08,307.48 L184.16,306.48 L184.24,305.48 L184.33,304.49 L184.41,303.49 L184.49,302.49 L184.57,301.50 L184.65,300.50 L184.73,299.50 L184.82,298.50 L184.90,297.51 L184.98,296.51 L185.06,295.51 L185.14,294.52 L185.22,293.52 L185.30,292.52 L185.38,291.53 L185.46,290.53 L185.54,289.53 L185.62,288.53 L185.70,287.54 L185.78,286.54 L185.86,285.54 L185.94,284.55 L186.01,283.55 L186.09,282.55 L186.17,281.55 L186.25,280.56 L186.33,279.56 L186.41,278.56 L186.49,277.57 L186.57,276.57 L186.65,275.57 L186.73,274.58 L186.81,273.58 L186.89,272.58 L186.97,271.58 L187.05,270.59 L187.13,269.59 L187.21,268.59 L187.30,267.60 L187.38,266.60 L187.46,265.60 L187.54,264.61 L187.62,263.61 L187.71,262.61 L187.79,261.62 L187.87,260.62 L187.96,259.62 L188.04,258.63 L188.12,257.63 L188.21,256.63 L188.29,255.64 L188.38,254.64 L188.47,253.64 L188.55,252.65 L188.64,251.65 L188.73,250.65 L188.82,249.66 L188.91,248.66 L189.00,247.66 L189.09,246.67 L189.18,245.67 L189.27,244.68 L189.36,243.68 L189.46,242.68 L189.55,241.69 L189.65,240.69 L189.74,239.70 L189.84,238.70 L189.94,237.71 L190.04,236.71 L190.14,235.72 L190.23,234.72 L190.34,233.72 L190.44,232.73 L190.54,231.73 L190.64,230.74 L190.74,229.74 L190.85,228.75 L190.95,227.76 L191.06,226.76 L191.16,225.77 L191.27,224.77 L191.38,223.78 L191.49,222.78 L191.60,221.79 L191.70,220.79 L191.81,219.80 L191.93,218.81 L192.04,217.81 L192.15,216.82 L192.26,215.82 L192.37,214.83 L192.49,213.84 L192.60,212.84 L192.71,211.85 L192.83,210.85 L192.94,209.86 L193.06,208.87 L193.17,207.87 L193.29,206.88 L193.40,205.89 L193.52,204.89 L193.63,203.90 L193.75,202.91 L193.86,201.91 L193.98,200.92 L194.10,199.93 L194.21,198.93 L194.33,197.94 L194.44,196.94 L194.56,195.95 L194.67,194.96 L194.79,193.96 L194.91,192.97 L195.02,191.98 L195.14,190.98 L195.25,189.99 L195.37,189.00 L195.48,188.00 L195.59,187.01 L195.71,186.01 L195.82,185.02 L195.94,184.03 L196.05,183.03 L196.17,182.04 L196.28,181.05 L196.40,180.05 L196.51,179.06 L196.62,178.07 L196.74,177.07 L196.85,176.08 L196.97,175.08 L197.08,174.09 L197.20,173.10 L197.31,172.10 L197.43,171.11 L197.54,170.12 L197.66,169.12 L197.77,168.13 L197.89,167.14 L198.00,166.14 L198.12,165.15 L198.23,164.15 L198.35,163.16 L198.47,162.17 L198.58,161.17 L198.70,160.18 L198.82,159.19 L198.94,158.19 L199.05,157.20 L199.17,156.21 L199.29,155.21 L199.41,154.22 L199.53,153.23 L199.65,152.24 L199.77,151.24 L199.89,150.25 L200.01,149.26 L200.14,148.26 L200.26,147.27 L200.38,146.28 L200.51,145.29 L200.63,144.29 L200.76,143.30 L200.88,142.31 L201.01,141.32 L201.14,140.32 L201.26,139.33 L201.39,138.34 L201.52,137.35 L201.65,136.36 L201.78,135.37 L201.92,134.37 L202.05,133.38 L202.19,132.39 L202.32,131.40 L202.46,130.41 L202.60,129.42 L202.74,128.43 L202.88,127.44 L203.03,126.45 L203.17,125.46 L203.32,124.47 L203.46,123.48 L203.61,122.49 L203.77,121.50 L203.92,120.52 L204.07,119.53 L204.23,118.54 L204.39,117.55 L204.55,116.56 L204.71,115.58 L204.88,114.59 L205.04,113.60 L205.21,112.62 L205.38,111.63 L205.55,110.65 L205.72,109.66 L205.89,108.68 L206.07,107.69 L206.24,106.71 L206.42,105.72 L206.60,104.74 L206.78,103.75 L206.96,102.77 L207.14,101.79 L207.32,100.80 L207.50,99.82 L207.69,98.84 L207.87,97.85 L208.06,96.87 L208.24,95.89 L208.43,94.90 L208.61,93.92 L208.80,92.94 L208.98,91.95 L209.17,90.97 L209.36,89.99 L209.54,89.01 L209.73,88.02 L209.92,87.04 L210.10,86.06 L210.29,85.08 L210.48,84.09 L210.67,83.11 L210.86,82.13 L211.05,81.15 L211.24,80.17 L211.43,79.18 L211.62,78.20 L211.81,77.22 L212.01,76.24 L212.20,75.26 L212.40,74.28 L212.59,73.30 L212.79,72.32 L212.99,71.34 L213.19,70.35 L213.39,69.37 L213.59,68.39 L213.79,67.42 L213.99,66.44 L214.19,65.46 L214.40,64.48 L214.60,63.50 L214.80,62.52 L215.00,61.54 L215.21,60.56 L215.41,59.58 L215.61,58.60 L215.82,57.62 L216.02,56.64 L216.23,55.66 L216.43,54.68 L216.64,53.70 L216.85,52.73 L217.06,51.75 L217.27,50.77 L217.49,49.79 L217.71,48.82 L217.93,47.84 L218.16,46.87 L218.39,45.90 L218.63,44.93 L218.87,43.96 L219.12,42.99 L219.37,42.02 L219.63,41.05 L219.90,40.09 L220.16,39.12 L220.44,38.16 L220.72,37.20 L221.01,36.24 L221.30,35.29 L221.60,34.33 L221.91,33.38 L222.22,32.43 L222.55,31.49 L222.89,30.55 L223.24,29.61 L223.61,28.68 L224.00,27.76 L224.41,26.85 L224.84,25.94 L225.30,25.05 L225.79,24.18 L226.30,23.32 L226.85,22.49 L227.43,21.67 L228.05,20.89 L228.69,20.12 L229.38,19.39 L230.09,18.69 L230.84,18.03 L231.62,17.41 L232.44,16.82 L233.28,16.29 L234.16,15.81 L235.06,15.38 L235.99,15.01 L236.95,14.72 L237.92,14.50 L238.91,14.36 L239.91,14.32 L240.91,14.36 L241.90,14.49 L242.88,14.71 L243.83,15.02 L244.76,15.40 L245.65,15.84 L246.52,16.34 L247.36,16.88 L248.17,17.47 L248.95,18.09 L249.72,18.73 L250.46,19.40 L251.19,20.09 L251.90,20.79 L252.60,21.50 L253.29,22.23 L253.98,22.95 L254.66,23.69 L255.34,24.42 L256.02,25.16 L256.69,25.89 L257.37,26.63 L258.05,27.36 L258.73,28.10 L259.41,28.83 L260.10,29.56 L260.78,30.29 L261.47,31.02 L262.15,31.74 L262.84,32.47 L263.53,33.20 L264.22,33.92 L264.90,34.65 L265.58,35.39 L266.26,36.12 L266.93,36.86 L267.60,37.60 L268.27,38.35 L268.93,39.10 L269.58,39.86 L270.23,40.62 L270.87,41.39 L271.50,42.16 L272.13,42.94 L272.75,43.73 L273.37,44.52 L273.97,45.31 L274.57,46.11 L275.17,46.92 L275.76,47.72 L276.34,48.54 L276.92,49.35 L277.50,50.17 L278.07,50.99 L278.64,51.81 L279.20,52.64 L279.77,53.47 L280.33,54.29 L280.89,55.12 L281.45,55.95 L282.02,56.77 L282.58,57.60 L283.15,58.42 L283.72,59.24 L284.29,60.06 L284.87,60.88 L285.44,61.70 L286.02,62.51 L286.61,63.33 L287.20,64.14 L287.79,64.94 L288.38,65.75 L288.98,66.55 L289.58,67.35 L290.19,68.14 L290.80,68.94 L291.41,69.73 L292.03,70.51 L292.66,71.29 L293.29,72.06 L293.93,72.83 L294.58,73.60 L295.23,74.35 L295.90,75.10 L296.58,75.83 L297.27,76.56 L297.97,77.27 L298.68,77.98 L299.40,78.67 L300.14,79.34 L300.89,80.01 L301.65,80.66 L302.42,81.29 L303.20,81.92 L303.99,82.53 L304.79,83.13 L305.60,83.71 L306.42,84.29 L307.25,84.85 L308.08,85.41 L308.91,85.96 L309.75,86.50 L310.60,87.04 L311.45,87.57 L312.30,88.09 L313.16,88.61 L314.02,89.12 L314.88,89.62 L315.75,90.12 L316.62,90.62 L317.49,91.10 L318.37,91.58 L319.25,92.06 L320.13,92.52 L321.02,92.98 L321.92,93.43 L322.81,93.88 L323.71,94.31 L324.62,94.73 L325.53,95.15 L326.44,95.56 L327.36,95.95 L328.28,96.34 L329.21,96.71 L330.14,97.08 L331.08,97.43 L332.02,97.77 L332.96,98.10 L333.91,98.41 L334.87,98.71 L335.83,98.99 L336.79,99.25 L337.76,99.50 L338.74,99.72 L339.72,99.93 L340.70,100.12 L341.68,100.29 L342.67,100.44 L343.67,100.57 L344.66,100.67 L345.66,100.76 L346.65,100.83 L347.65,100.88 L348.65,100.90 L349.65,100.91 L350.65,100.90 L351.65,100.87 L352.65,100.83 L353.65,100.76 L354.65,100.67 L355.64,100.57 L356.63,100.45 L357.62,100.30 L358.61,100.14 L359.59,99.95 L360.57,99.74 L361.55,99.52 L362.51,99.27 L363.48,98.99 L364.43,98.70 L365.38,98.38 L366.32,98.04 L367.25,97.67 L368.17,97.28 L369.09,96.88 L369.99,96.45 L370.88,96.00 L371.77,95.53 L372.64,95.04 L373.51,94.54 L374.36,94.02 L375.21,93.49 L376.05,92.95 L376.88,92.39 L377.70,91.82 L378.52,91.25 L379.34,90.67 L380.15,90.08 L380.95,89.48 L381.75,88.88 L382.55,88.28 L383.35,87.68 L384.14,87.07 L384.93,86.46 L385.72,85.84 L386.51,85.23 L387.30,84.61 L388.09,84.00 L388.87,83.38 L389.66,82.76 L390.44,82.13 L391.22,81.51 L392.00,80.88 L392.78,80.25 L393.55,79.62 L394.32,78.99 L395.10,78.35 L395.87,77.71 L396.63,77.07 L397.40,76.42 L398.16,75.78 L398.92,75.13 L399.68,74.48 L400.44,73.82 L401.20,73.17 L401.95,72.52 L402.71,71.86 L403.46,71.20 L404.21,70.54 L404.96,69.88 L405.72,69.22 L406.47,68.56 L407.22,67.90 L407.97,67.24 L408.71,66.57 L409.46,65.91 L410.21,65.24 L410.96,64.58 L411.70,63.91 L412.45,63.25 L413.19,62.58 L413.94,61.91 L414.68,61.24 L415.42,60.57 L416.16,59.89 L416.90,59.22 L417.63,58.54 L418.37,57.86 L419.10,57.18 L419.83,56.50 L420.57,55.82 L421.30,55.14 L422.03,54.45 L422.76,53.77 L423.49,53.09 L424.22,52.41 L424.96,51.73 L425.69,51.05 L426.43,50.37 L427.16,49.69 L427.90,49.02 L428.65,48.35 L429.40,47.69 L430.15,47.03 L430.90,46.37 L431.66,45.72 L432.42,45.07 L433.19,44.43 L433.97,43.80 L434.75,43.17 L435.53,42.56 L436.33,41.94 L437.12,41.34 L437.93,40.75 L438.74,40.16 L439.55,39.58 L440.38,39.01 L441.21,38.45 L442.04,37.90 L442.88,37.36 L443.73,36.83 L444.58,36.31 L445.44,35.80 L446.31,35.30 L447.18,34.81 L448.06,34.33 L448.95,33.87 L449.84,33.42 L450.74,32.99 L451.65,32.57 L452.57,32.17 L453.49,31.79 L454.43,31.43 L455.37,31.09 L456.31,30.77 L457.27,30.47 L458.23,30.21 L459.21,29.97 L460.19,29.76 L461.17,29.59 L462.16,29.46 L463.16,29.36 L464.16,29.30 L465.16,29.29 L466.16,29.32 L467.15,29.39 L468.15,29.51 L469.13,29.68 L470.11,29.89 L471.07,30.15 L472.03,30.46 L472.97,30.80 L473.89,31.19 L474.80,31.61 L475.69,32.06 L476.56,32.55 L477.42,33.06 L478.26,33.61 L479.08,34.17 L479.89,34.76 L480.69,35.37 L481.47,35.99 L482.23,36.63 L482.99,37.29 L483.73,37.96 L484.46,38.65 L485.17,39.35 L485.87,40.06 L486.56,40.79 L487.24,41.52 L487.90,42.27 L488.55,43.03 L489.19,43.80 L489.82,44.58 L490.43,45.38 L491.03,46.18 L491.61,46.99 L492.18,47.81 L492.74,48.64 L493.29,49.47 L493.83,50.32 L494.35,51.17 L494.87,52.03 L495.37,52.89 L495.86,53.76 L496.35,54.64 L496.83,55.52 L497.30,56.40 L497.76,57.29 L498.22,58.18 L498.67,59.07 L499.11,59.96 L499.55,60.86 L499.99,61.76 L500.42,62.66 L500.85,63.57 L501.27,64.48 L501.69,65.38 L502.11,66.29 L502.52,67.20 L502.93,68.12 L503.33,69.03 L503.73,69.95 L504.13,70.87 L504.52,71.79 L504.91,72.71 L505.29,73.64 L505.66,74.56 L506.03,75.49 L506.40,76.42 L506.76,77.36 L507.12,78.29 L507.47,79.23 L507.81,80.17 L508.15,81.11 L508.49,82.05 L508.82,82.99 L509.15,83.94 L509.47,84.88 L509.79,85.83 L510.10,86.78 L510.41,87.73 L510.72,88.68 L511.02,89.64 L511.32,90.59 L511.61,91.55 L511.90,92.51 L512.19,93.46 L512.47,94.42 L512.75,95.38 L513.03,96.35 L513.30,97.31 L513.57,98.27 L513.84,99.23 L514.11,100.20 L514.37,101.16 L514.63,102.13 L514.89,103.09 L515.15,104.06 L515.41,105.03 L515.67,105.99 L515.93,106.96 L516.19,107.93 L516.44,108.89 L516.70,109.86 L516.96,110.83 L517.21,111.79 L517.47,112.76 L517.72,113.73 L517.98,114.69 L518.23,115.66 L518.49,116.63 L518.74,117.60 L519.00,118.56 L519.25,119.53 L519.51,120.50 L519.76,121.47 L520.01,122.43 L520.26,123.40 L520.51,124.37 L520.76,125.34 L521.01,126.31 L521.26,127.28 L521.51,128.25 L521.75,129.22 L522.00,130.18 L522.25,131.15 L522.49,132.12 L522.73,133.09 L522.98,134.07 L523.22,135.04 L523.46,136.01 L523.70,136.98 L523.93,137.95 L524.17,138.92 L524.41,139.89 L524.64,140.86 L524.88,141.84 L525.11,142.81 L525.35,143.78 L525.58,144.76 L525.81,145.73 L526.04,146.70 L526.27,147.68 L526.50,148.65 L526.73,149.62 L526.95,150.60 L527.18,151.57 L527.41,152.55 L527.63,153.52 L527.85,154.50 L528.07,155.47 L528.29,156.45 L528.51,157.42 L528.73,158.40 L528.95,159.38 L529.16,160.35 L529.37,161.33 L529.58,162.31 L529.79,163.29 L530.00,164.26 L530.21,165.24 L530.41,166.22 L530.61,167.20 L530.81,168.18 L531.01,169.16 L531.20,170.14 L531.40,171.13 L531.59,172.11 L531.77,173.09 L531.96,174.07 L532.14,175.06 L532.32,176.04 L532.50,177.03 L532.67,178.01 L532.85,179.00 L533.02,179.98 L533.19,180.97 L533.36,181.95 L533.52,182.94 L533.69,183.93 L533.85,184.91 L534.02,185.90 L534.18,186.89 L534.35,187.87 L534.51,188.86 L534.67,189.85 L534.84,190.83 L535.00,191.82 L535.17,192.81 L535.34,193.79 L535.50,194.78 L535.67,195.76 L535.84,196.75 L536.02,197.73 L536.19,198.72 L536.36,199.70 L536.54,200.69 L536.72,201.67 L536.90,202.66 L537.08,203.64 L537.27,204.62 L537.45,205.61 L537.64,206.59 L537.82,207.57 L538.01,208.55 L538.20,209.54 L538.39,210.52 L538.59,211.50 L538.78,212.48 L538.97,213.46 L539.17,214.44 L539.36,215.42 L539.56,216.41 L539.75,217.39 L539.95,218.37 L540.14,219.35 L540.34,220.33 L540.53,221.31 L540.73,222.29 L540.93,223.27 L541.12,224.25 L541.32,225.23 L541.51,226.22 L541.71,227.20 L541.90,228.18 L542.09,229.16 L542.29,230.14 L542.48,231.12 L542.67,232.10 L542.86,233.09 L543.05,234.07 L543.24,235.05 L543.43,236.03 L543.61,237.02 L543.80,238.00 L543.98,238.98 L544.17,239.96 L544.35,240.95 L544.53,241.93 L544.71,242.92 L544.89,243.90 L545.07,244.88 L545.24,245.87 L545.42,246.85 L545.59,247.84 L545.77,248.82 L545.94,249.81 L546.11,250.79 L546.28,251.78 L546.45,252.77 L546.62,253.75 L546.79,254.74 L546.95,255.72 L547.12,256.71 L547.28,257.70 L547.45,258.68 L547.61,259.67 L547.78,260.66 L547.94,261.64 L548.10,262.63 L548.26,263.62 L548.43,264.60 L548.59,265.59 L548.75,266.58 L548.91,267.57 L549.07,268.55 L549.23,269.54 L549.38,270.53 L549.54,271.52 L549.70,272.50 L549.86,273.49 L550.01,274.48 L550.17,275.47 L550.33,276.46 L550.48,277.44 L550.64,278.43 L550.80,279.42 L550.95,280.41 L551.11,281.40 L551.26,282.38 L551.42,283.37 L551.57,284.36 L551.72,285.35 L551.88,286.34 L552.03,287.33 L552.19,288.31 L552.34,289.30 L552.49,290.29 L552.65,291.28 L552.80,292.27 L552.95,293.26 L553.11,294.24 L553.26,295.23 L553.42,296.22 L553.57,297.21 L553.72,298.20 L553.88,299.19 L554.03,300.17 L554.18,301.16 L554.34,302.15 L554.49,303.14 L554.65,304.13 L554.80,305.12 L554.96,306.10 L555.11,307.09 L555.27,308.08 L555.42,309.07 L555.58,310.06 L555.73,311.05 L555.88,312.03 L556.04,313.02 L556.19,314.01 L556.34,315.00 L556.50,315.99 L556.65,316.98 L556.80,317.97 L556.95,318.95 L557.10,319.94 L557.25,320.93 L557.39,321.92 L557.54,322.91 L557.68,323.90 L557.83,324.89 L557.97,325.88 L558.11,326.87 L558.25,327.86 L558.39,328.85 L558.53,329.84 L558.66,330.83 L558.80,331.83 L558.93,332.82 L559.06,333.81 L559.19,334.80 L559.31,335.79 L559.44,336.79 L559.56,337.78 L559.68,338.77 L559.80,339.76 L559.92,340.76 L560.03,341.75 L560.15,342.74 L560.26,343.74 L560.37,344.73 L560.48,345.73 L560.58,346.72 L560.69,347.72 L560.79,348.71 L560.90,349.71 L561.00,350.70 L561.10,351.70 L561.20,352.69 L561.29,353.69 L561.39,354.68 L561.49,355.68 L561.59,356.67 L561.68,357.67 L561.78,358.67 L561.87,359.66 L561.97,360.66 L562.06,361.65 L562.16,362.65 L562.25,363.64 L562.35,364.64 L562.44,365.64 L562.54,366.63 L562.63,367.63 L562.73,368.62 L562.82,369.62 L562.92,370.61 L563.02,371.61 L563.12,372.60 L563.21,373.60 L563.31,374.60 L563.41,375.59 L563.52,376.59 L563.62,377.58 L563.72,378.58 L563.83,379.57 L563.94,380.56 L564.04,381.56 L564.15,382.55 L564.27,383.55 L564.38,384.54 L564.49,385.53 L564.61,386.53 L564.73,387.52 L564.85,388.51 L564.97,389.51 L565.10,390.50 L565.22,391.49 L565.35,392.48 L565.48,393.48 L565.61,394.47 L565.74,395.46 L565.88,396.45 L566.01,397.44 L566.15,398.43 L566.29,399.42 L566.43,400.41 L566.57,401.40 L566.71,402.39 L566.85,403.38 L567.00,404.37 L567.14,405.36 L567.29,406.35 L567.44,407.34 L567.58,408.33 L567.73,409.32 L567.88,410.31 L568.03,411.30 L568.18,412.29 L568.34,413.28 L568.49,414.26 L568.64,415.25 L568.79,416.24 L568.95,417.23 L569.10,418.22 L569.25,419.21 L569.41,420.19 L569.56,421.18 L569.72,422.17 L569.87,423.16 L570.02,424.15 L570.18,425.14 L570.33,426.12 L570.48,427.11 L570.64,428.10 L570.79,429.09 L570.94,430.08 L571.10,431.07 L571.25,432.06 L571.40,433.04 L571.55,434.03 L571.70,435.02 L571.85,436.01 L572.00,437.00" fill="none" stroke="#a259e8" stroke-width="2.6" stroke-linecap="round" stroke-linejoin="round" stroke-dasharray="8.8 10.9 2 9.8 2 11.2" stroke-dashoffset="28.68"/>

<path d="M176.40,440.00 L176.48,439.00 L176.56,438.01 L176.64,437.01 L176.72,436.01 L176.79,435.01 L176.87,434.02 L176.95,433.02 L177.02,432.02 L177.10,431.02 L177.18,430.02 L177.25,429.03 L177.33,428.03 L177.41,427.03 L177.48,426.03 L177.56,425.04 L177.64,424.04 L177.71,423.04 L177.79,422.04 L177.86,421.05 L177.94,420.05 L178.02,419.05 L178.09,418.05 L178.17,417.06 L178.25,416.06 L178.32,415.06 L178.40,414.06 L178.47,413.07 L178.55,412.07 L178.63,411.07 L178.70,410.07 L178.78,409.07 L178.86,408.08 L178.94,407.08 L179.01,406.08 L179.09,405.08 L179.17,404.09 L179.25,403.09 L179.33,402.09 L179.41,401.09 L179.49,400.10 L179.57,399.10 L179.65,398.10 L179.73,397.11 L179.81,396.11 L179.89,395.11 L179.98,394.11 L180.06,393.12 L180.14,392.12 L180.23,391.12 L180.31,390.13 L180.40,389.13 L180.49,388.13 L180.57,387.14 L180.66,386.14 L180.75,385.14 L180.84,384.15 L180.93,383.15 L181.02,382.15 L181.11,381.16 L181.20,380.16 L181.29,379.16 L181.39,378.17 L181.48,377.17 L181.58,376.18 L181.67,375.18 L181.77,374.18 L181.87,373.19 L181.97,372.19 L182.07,371.20 L182.17,370.20 L182.27,369.21 L182.37,368.21 L182.48,367.22 L182.58,366.22 L182.68,365.23 L182.79,364.23 L182.89,363.24 L183.00,362.24 L183.11,361.25 L183.21,360.25 L183.32,359.26 L183.43,358.26 L183.53,357.27 L183.64,356.27 L183.75,355.28 L183.86,354.28 L183.97,353.29 L184.08,352.29 L184.19,351.30 L184.30,350.30 L184.41,349.31 L184.52,348.32 L184.62,347.32 L184.73,346.33 L184.84,345.33 L184.95,344.34 L185.06,343.34 L185.17,342.35 L185.28,341.35 L185.39,340.36 L185.49,339.36 L185.60,338.37 L185.71,337.37 L185.81,336.38 L185.92,335.38 L186.03,334.39 L186.13,333.39 L186.24,332.40 L186.34,331.40 L186.44,330.41 L186.55,329.41 L186.65,328.42 L186.75,327.42 L186.85,326.43 L186.95,325.43 L187.05,324.44 L187.15,323.44 L187.25,322.45 L187.34,321.45 L187.44,320.45 L187.54,319.46 L187.63,318.46 L187.72,317.47 L187.82,316.47 L187.91,315.47 L188.00,314.48 L188.09,313.48 L188.18,312.48 L188.27,311.49 L188.36,310.49 L188.45,309.49 L188.54,308.50 L188.62,307.50 L188.71,306.50 L188.79,305.51 L188.88,304.51 L188.96,303.51 L189.05,302.52 L189.13,301.52 L189.22,300.52 L189.30,299.52 L189.38,298.53 L189.46,297.53 L189.55,296.53 L189.63,295.54 L189.71,294.54 L189.79,293.54 L189.87,292.54 L189.95,291.55 L190.03,290.55 L190.12,289.55 L190.20,288.56 L190.28,287.56 L190.36,286.56 L190.44,285.56 L190.52,284.57 L190.60,283.57 L190.68,282.57 L190.76,281.57 L190.84,280.58 L190.92,279.58 L191.00,278.58 L191.08,277.59 L191.17,276.59 L191.25,275.59 L191.33,274.59 L191.41,273.60 L191.49,272.60 L191.58,271.60 L191.66,270.60 L191.74,269.61 L191.82,268.61 L191.91,267.61 L191.99,266.62 L192.08,265.62 L192.16,264.62 L192.25,263.63 L192.33,262.63 L192.42,261.63 L192.51,260.64 L192.60,259.64 L192.68,258.64 L192.77,257.65 L192.86,256.65 L192.95,255.65 L193.05,254.66 L193.14,253.66 L193.23,252.66 L193.33,251.67 L193.42,250.67 L193.52,249.68 L193.62,248.68 L193.72,247.68 L193.82,246.69 L193.92,245.69 L194.02,244.70 L194.13,243.70 L194.23,242.71 L194.34,241.71 L194.45,240.72 L194.56,239.73 L194.67,238.73 L194.79,237.74 L194.90,236.74 L195.02,235.75 L195.14,234.76 L195.26,233.76 L195.38,232.77 L195.50,231.78 L195.63,230.78 L195.75,229.79 L195.88,228.80 L196.01,227.81 L196.14,226.82 L196.28,225.82 L196.41,224.83 L196.55,223.84 L196.68,222.85 L196.82,221.86 L196.96,220.87 L197.10,219.88 L197.24,218.89 L197.38,217.90 L197.52,216.91 L197.67,215.92 L197.81,214.93 L197.95,213.93 L198.10,212.94 L198.24,211.95 L198.39,210.96 L198.53,209.97 L198.68,208.98 L198.82,207.99 L198.97,207.00 L199.11,206.01 L199.26,205.02 L199.40,204.03 L199.54,203.04 L199.69,202.05 L199.83,201.06 L199.97,200.07 L200.12,199.08 L200.26,198.09 L200.41,197.10 L200.55,196.11 L200.69,195.12 L200.84,194.13 L200.98,193.14 L201.12,192.15 L201.27,191.16 L201.41,190.17 L201.55,189.18 L201.70,188.19 L201.84,187.20 L201.99,186.21 L202.13,185.22 L202.28,184.23 L202.42,183.24 L202.57,182.25 L202.71,181.26 L202.86,180.27 L203.00,179.28 L203.15,178.29 L203.29,177.30 L203.44,176.31 L203.58,175.32 L203.73,174.33 L203.88,173.34 L204.02,172.35 L204.17,171.36 L204.31,170.37 L204.46,169.38 L204.61,168.39 L204.75,167.40 L204.90,166.41 L205.05,165.42 L205.19,164.43 L205.34,163.44 L205.49,162.46 L205.64,161.47 L205.78,160.48 L205.93,159.49 L206.08,158.50 L206.23,157.51 L206.37,156.52 L206.52,155.53 L206.67,154.54 L206.82,153.55 L206.97,152.56 L207.12,151.57 L207.27,150.58 L207.42,149.59 L207.56,148.60 L207.71,147.61 L207.86,146.62 L208.01,145.63 L208.16,144.65 L208.31,143.66 L208.46,142.67 L208.62,141.68 L208.77,140.69 L208.92,139.70 L209.07,138.71 L209.22,137.72 L209.37,136.73 L209.53,135.74 L209.68,134.75 L209.83,133.77 L209.98,132.78 L210.14,131.79 L210.29,130.80 L210.45,129.81 L210.60,128.82 L210.76,127.83 L210.91,126.85 L211.07,125.86 L211.23,124.87 L211.39,123.88 L211.54,122.89 L211.70,121.91 L211.86,120.92 L212.02,119.93 L212.18,118.94 L212.34,117.96 L212.51,116.97 L212.67,115.98 L212.83,114.99 L213.00,114.01 L213.17,113.02 L213.33,112.04 L213.50,111.05 L213.68,110.06 L213.85,109.08 L214.02,108.09 L214.20,107.11 L214.38,106.12 L214.56,105.14 L214.74,104.16 L214.93,103.17 L215.12,102.19 L215.31,101.21 L215.50,100.23 L215.69,99.24 L215.89,98.26 L216.09,97.28 L216.29,96.30 L216.50,95.32 L216.70,94.34 L216.91,93.37 L217.12,92.39 L217.34,91.41 L217.55,90.43 L217.77,89.46 L217.98,88.48 L218.20,87.50 L218.42,86.53 L218.65,85.55 L218.87,84.58 L219.10,83.60 L219.32,82.63 L219.55,81.65 L219.78,80.68 L220.01,79.71 L220.24,78.73 L220.47,77.76 L220.70,76.79 L220.94,75.81 L221.17,74.84 L221.41,73.87 L221.64,72.89 L221.88,71.92 L222.11,70.95 L222.35,69.98 L222.59,69.01 L222.82,68.03 L223.06,67.06 L223.30,66.09 L223.54,65.12 L223.78,64.15 L224.02,63.18 L224.26,62.20 L224.50,61.23 L224.75,60.26 L224.99,59.29 L225.24,58.32 L225.49,57.36 L225.75,56.39 L226.00,55.42 L226.27,54.46 L226.53,53.49 L226.80,52.53 L227.07,51.56 L227.35,50.60 L227.63,49.64 L227.92,48.69 L228.22,47.73 L228.52,46.78 L228.83,45.82 L229.14,44.87 L229.47,43.93 L229.80,42.98 L230.14,42.04 L230.49,41.11 L230.85,40.17 L231.23,39.24 L231.61,38.32 L232.00,37.40 L232.41,36.49 L232.83,35.58 L233.27,34.68 L233.72,33.79 L234.18,32.90 L234.66,32.02 L235.16,31.15 L235.67,30.29 L236.20,29.45 L236.75,28.61 L237.31,27.78 L237.90,26.97 L238.50,26.17 L239.11,25.38 L239.75,24.61 L240.40,23.85 L241.07,23.11 L241.76,22.38 L242.47,21.68 L243.20,20.99 L243.95,20.33 L244.72,19.68 L245.50,19.07 L246.31,18.48 L247.14,17.92 L247.99,17.39 L248.87,16.91 L249.76,16.46 L250.68,16.06 L251.61,15.70 L252.57,15.40 L253.53,15.15 L254.51,14.94 L255.50,14.80 L256.50,14.70 L257.50,14.66 L258.50,14.66 L259.50,14.71 L260.49,14.81 L261.48,14.95 L262.47,15.13 L263.44,15.35 L264.41,15.61 L265.37,15.90 L266.32,16.22 L267.25,16.58 L268.18,16.96 L269.09,17.37 L269.99,17.80 L270.88,18.25 L271.77,18.73 L272.64,19.22 L273.50,19.72 L274.35,20.24 L275.20,20.78 L276.04,21.32 L276.88,21.87 L277.71,22.43 L278.53,23.00 L279.35,23.57 L280.16,24.15 L280.98,24.74 L281.78,25.33 L282.59,25.92 L283.39,26.52 L284.19,27.12 L284.98,27.73 L285.78,28.34 L286.57,28.95 L287.36,29.56 L288.16,30.17 L288.95,30.79 L289.74,31.40 L290.53,32.01 L291.32,32.62 L292.11,33.23 L292.91,33.84 L293.70,34.45 L294.50,35.05 L295.30,35.66 L296.10,36.25 L296.90,36.85 L297.71,37.44 L298.52,38.03 L299.33,38.62 L300.14,39.20 L300.96,39.78 L301.78,40.35 L302.61,40.92 L303.43,41.48 L304.27,42.03 L305.11,42.57 L305.95,43.11 L306.80,43.64 L307.66,44.16 L308.52,44.67 L309.39,45.16 L310.26,45.65 L311.14,46.13 L312.02,46.60 L312.91,47.06 L313.81,47.51 L314.71,47.94 L315.61,48.37 L316.52,48.79 L317.43,49.20 L318.35,49.60 L319.27,49.99 L320.20,50.37 L321.13,50.74 L322.06,51.10 L323.00,51.45 L323.94,51.80 L324.88,52.14 L325.82,52.46 L326.77,52.79 L327.72,53.10 L328.67,53.40 L329.63,53.70 L330.59,53.99 L331.55,54.27 L332.51,54.54 L333.48,54.80 L334.45,55.05 L335.42,55.29 L336.39,55.52 L337.37,55.74 L338.35,55.94 L339.33,56.12 L340.32,56.30 L341.30,56.45 L342.30,56.59 L343.29,56.71 L344.28,56.81 L345.28,56.88 L346.28,56.94 L347.28,56.98 L348.28,56.99 L349.28,56.99 L350.28,56.96 L351.28,56.91 L352.28,56.85 L353.28,56.76 L354.27,56.65 L355.26,56.53 L356.26,56.39 L357.24,56.24 L358.23,56.07 L359.21,55.89 L360.20,55.70 L361.18,55.49 L362.15,55.28 L363.13,55.06 L364.10,54.83 L365.07,54.59 L366.04,54.34 L367.01,54.09 L367.98,53.84 L368.95,53.57 L369.91,53.31 L370.87,53.03 L371.83,52.75 L372.79,52.47 L373.75,52.18 L374.71,51.89 L375.66,51.59 L376.61,51.28 L377.57,50.97 L378.51,50.66 L379.46,50.34 L380.41,50.01 L381.35,49.68 L382.30,49.35 L383.24,49.01 L384.18,48.66 L385.12,48.32 L386.05,47.97 L386.99,47.61 L387.92,47.25 L388.86,46.89 L389.79,46.53 L390.72,46.16 L391.65,45.79 L392.58,45.42 L393.51,45.05 L394.43,44.67 L395.36,44.29 L396.28,43.91 L397.21,43.52 L398.13,43.14 L399.05,42.74 L399.97,42.35 L400.89,41.95 L401.80,41.55 L402.72,41.14 L403.63,40.73 L404.54,40.32 L405.45,39.90 L406.36,39.48 L407.27,39.07 L408.18,38.64 L409.08,38.22 L409.99,37.80 L410.90,37.38 L411.80,36.96 L412.71,36.54 L413.62,36.12 L414.53,35.71 L415.45,35.29 L416.36,34.89 L417.27,34.48 L418.19,34.08 L419.11,33.69 L420.03,33.30 L420.95,32.91 L421.88,32.53 L422.81,32.15 L423.73,31.77 L424.66,31.40 L425.59,31.04 L426.52,30.67 L427.46,30.31 L428.39,29.95 L429.33,29.60 L430.27,29.25 L431.21,28.91 L432.15,28.58 L433.10,28.25 L434.04,27.93 L434.99,27.62 L435.95,27.32 L436.91,27.03 L437.87,26.75 L438.84,26.49 L439.81,26.25 L440.78,26.03 L441.76,25.83 L442.74,25.64 L443.73,25.48 L444.72,25.35 L445.72,25.24 L446.71,25.15 L447.71,25.09 L448.71,25.06 L449.71,25.05 L450.71,25.07 L451.71,25.12 L452.71,25.20 L453.71,25.30 L454.70,25.42 L455.69,25.58 L456.67,25.76 L457.65,25.96 L458.62,26.19 L459.59,26.45 L460.55,26.73 L461.50,27.04 L462.45,27.38 L463.38,27.74 L464.30,28.13 L465.21,28.54 L466.11,28.99 L466.99,29.45 L467.86,29.95 L468.72,30.46 L469.56,31.01 L470.39,31.57 L471.19,32.16 L471.99,32.77 L472.77,33.40 L473.53,34.05 L474.27,34.71 L475.01,35.40 L475.72,36.09 L476.43,36.80 L477.12,37.53 L477.79,38.27 L478.45,39.02 L479.10,39.78 L479.74,40.55 L480.36,41.34 L480.97,42.13 L481.56,42.94 L482.14,43.75 L482.71,44.57 L483.26,45.41 L483.80,46.25 L484.33,47.10 L484.84,47.96 L485.34,48.83 L485.83,49.70 L486.31,50.58 L486.78,51.46 L487.25,52.35 L487.70,53.24 L488.15,54.13 L488.60,55.03 L489.04,55.92 L489.48,56.82 L489.92,57.72 L490.36,58.62 L490.79,59.52 L491.23,60.42 L491.66,61.33 L492.09,62.23 L492.52,63.13 L492.95,64.04 L493.37,64.94 L493.79,65.85 L494.21,66.76 L494.63,67.67 L495.04,68.58 L495.45,69.49 L495.86,70.41 L496.26,71.32 L496.66,72.24 L497.05,73.16 L497.44,74.08 L497.83,75.01 L498.21,75.93 L498.58,76.86 L498.96,77.79 L499.32,78.72 L499.69,79.65 L500.04,80.59 L500.40,81.52 L500.75,82.46 L501.09,83.40 L501.44,84.34 L501.78,85.28 L502.11,86.22 L502.45,87.16 L502.78,88.11 L503.10,89.05 L503.43,90.00 L503.75,90.95 L504.08,91.89 L504.40,92.84 L504.72,93.79 L505.03,94.74 L505.35,95.69 L505.66,96.64 L505.98,97.59 L506.29,98.54 L506.60,99.49 L506.91,100.44 L507.22,101.39 L507.53,102.34 L507.83,103.30 L508.14,104.25 L508.44,105.20 L508.74,106.16 L509.05,107.11 L509.34,108.07 L509.64,109.02 L509.94,109.98 L510.23,110.93 L510.52,111.89 L510.81,112.85 L511.10,113.81 L511.38,114.77 L511.67,115.73 L511.95,116.69 L512.22,117.65 L512.50,118.61 L512.77,119.57 L513.04,120.54 L513.31,121.50 L513.58,122.47 L513.84,123.43 L514.10,124.40 L514.35,125.36 L514.61,126.33 L514.86,127.30 L515.11,128.27 L515.36,129.24 L515.60,130.21 L515.85,131.18 L516.09,132.15 L516.33,133.12 L516.57,134.09 L516.81,135.06 L517.05,136.03 L517.29,137.01 L517.53,137.98 L517.77,138.95 L518.01,139.92 L518.24,140.89 L518.48,141.86 L518.72,142.84 L518.96,143.81 L519.20,144.78 L519.44,145.75 L519.68,146.72 L519.92,147.69 L520.16,148.66 L520.40,149.64 L520.64,150.61 L520.88,151.58 L521.12,152.55 L521.36,153.52 L521.60,154.49 L521.84,155.46 L522.08,156.44 L522.32,157.41 L522.55,158.38 L522.79,159.35 L523.03,160.32 L523.26,161.30 L523.50,162.27 L523.73,163.24 L523.97,164.21 L524.20,165.19 L524.43,166.16 L524.66,167.13 L524.90,168.11 L525.13,169.08 L525.36,170.05 L525.59,171.03 L525.82,172.00 L526.05,172.98 L526.27,173.95 L526.50,174.92 L526.73,175.90 L526.95,176.87 L527.18,177.85 L527.40,178.82 L527.62,179.80 L527.84,180.77 L528.07,181.75 L528.28,182.73 L528.50,183.70 L528.72,184.68 L528.93,185.66 L529.15,186.63 L529.36,187.61 L529.57,188.59 L529.78,189.57 L529.99,190.55 L530.20,191.53 L530.40,192.51 L530.61,193.48 L530.81,194.46 L531.01,195.44 L531.21,196.42 L531.41,197.40 L531.61,198.39 L531.81,199.37 L532.00,200.35 L532.20,201.33 L532.39,202.31 L532.59,203.29 L532.78,204.27 L532.97,205.26 L533.16,206.24 L533.35,207.22 L533.54,208.20 L533.73,209.19 L533.92,210.17 L534.11,211.15 L534.30,212.13 L534.49,213.12 L534.67,214.10 L534.86,215.08 L535.05,216.06 L535.24,217.05 L535.43,218.03 L535.61,219.01 L535.80,220.00 L535.99,220.98 L536.18,221.96 L536.37,222.94 L536.55,223.93 L536.74,224.91 L536.93,225.89 L537.12,226.87 L537.31,227.86 L537.50,228.84 L537.69,229.82 L537.88,230.80 L538.08,231.78 L538.27,232.77 L538.46,233.75 L538.65,234.73 L538.85,235.71 L539.04,236.69 L539.24,237.67 L539.44,238.65 L539.63,239.64 L539.83,240.62 L540.03,241.60 L540.23,242.58 L540.43,243.56 L540.63,244.54 L540.84,245.52 L541.04,246.50 L541.25,247.48 L541.45,248.45 L541.66,249.43 L541.87,250.41 L542.07,251.39 L542.28,252.37 L542.49,253.35 L542.70,254.33 L542.91,255.30 L543.12,256.28 L543.33,257.26 L543.55,258.24 L543.76,259.22 L543.97,260.19 L544.19,261.17 L544.40,262.15 L544.61,263.13 L544.83,264.10 L545.04,265.08 L545.26,266.06 L545.47,267.04 L545.69,268.01 L545.90,268.99 L546.12,269.97 L546.33,270.94 L546.55,271.92 L546.76,272.90 L546.97,273.88 L547.19,274.85 L547.40,275.83 L547.62,276.81 L547.83,277.79 L548.04,278.76 L548.26,279.74 L548.47,280.72 L548.68,281.70 L548.89,282.67 L549.10,283.65 L549.31,284.63 L549.52,285.61 L549.73,286.59 L549.94,287.57 L550.14,288.55 L550.35,289.53 L550.55,290.50 L550.76,291.48 L550.96,292.46 L551.16,293.44 L551.36,294.42 L551.56,295.40 L551.76,296.38 L551.96,297.37 L552.16,298.35 L552.35,299.33 L552.55,300.31 L552.74,301.29 L552.93,302.27 L553.13,303.25 L553.32,304.24 L553.51,305.22 L553.70,306.20 L553.89,307.18 L554.08,308.17 L554.26,309.15 L554.45,310.13 L554.64,311.11 L554.82,312.10 L555.01,313.08 L555.19,314.06 L555.37,315.05 L555.55,316.03 L555.73,317.02 L555.91,318.00 L556.09,318.99 L556.26,319.97 L556.43,320.96 L556.61,321.94 L556.78,322.93 L556.94,323.92 L557.11,324.90 L557.27,325.89 L557.43,326.88 L557.59,327.86 L557.75,328.85 L557.90,329.84 L558.06,330.83 L558.21,331.82 L558.35,332.81 L558.50,333.80 L558.64,334.79 L558.78,335.78 L558.92,336.77 L559.05,337.76 L559.18,338.75 L559.31,339.75 L559.44,340.74 L559.56,341.73 L559.69,342.73 L559.81,343.72 L559.92,344.71 L560.04,345.71 L560.15,346.70 L560.26,347.70 L560.36,348.69 L560.47,349.68 L560.57,350.68 L560.68,351.68 L560.78,352.67 L560.87,353.67 L560.97,354.66 L561.07,355.66 L561.16,356.65 L561.26,357.65 L561.35,358.65 L561.45,359.64 L561.54,360.64 L561.63,361.63 L561.72,362.63 L561.82,363.63 L561.91,364.62 L562.00,365.62 L562.09,366.62 L562.18,367.61 L562.28,368.61 L562.37,369.61 L562.46,370.60 L562.56,371.60 L562.65,372.59 L562.75,373.59 L562.84,374.59 L562.94,375.58 L563.04,376.58 L563.14,377.57 L563.24,378.57 L563.34,379.56 L563.45,380.56 L563.55,381.55 L563.66,382.55 L563.77,383.54 L563.89,384.54 L564.00,385.53 L564.12,386.52 L564.23,387.52 L564.36,388.51 L564.48,389.50 L564.60,390.50 L564.73,391.49 L564.86,392.48 L564.99,393.47 L565.12,394.46 L565.26,395.46 L565.39,396.45 L565.53,397.44 L565.67,398.43 L565.81,399.42 L565.95,400.41 L566.10,401.40 L566.24,402.39 L566.39,403.38 L566.54,404.37 L566.68,405.36 L566.83,406.35 L566.99,407.34 L567.14,408.33 L567.29,409.32 L567.44,410.30 L567.60,411.29 L567.75,412.28 L567.91,413.27 L568.06,414.26 L568.22,415.25 L568.37,416.23 L568.53,417.22 L568.69,418.21 L568.85,419.20 L569.00,420.19 L569.16,421.18 L569.32,422.16 L569.48,423.15 L569.63,424.14 L569.79,425.13 L569.95,426.12 L570.11,427.10 L570.26,428.09 L570.42,429.08 L570.58,430.07 L570.73,431.06 L570.89,432.04 L571.04,433.03 L571.20,434.02 L571.35,435.01 L571.50,436.00" fill="none" stroke="#d99a0e" stroke-width="2.6" stroke-linecap="butt" stroke-linejoin="round" stroke-dasharray="7.5 5.96" stroke-dashoffset="10.26"/>

</g>
<line x1="97" y1="8.0" x2="97" y2="440" stroke="#4a4a4a" stroke-width="1.7"/>
<line x1="86" y1="8.00" x2="97" y2="8.00" stroke="#4a4a4a" stroke-width="1.7"/>
<line x1="92" y1="29.60" x2="97" y2="29.60" stroke="#4a4a4a" stroke-width="1.7"/>
<line x1="86" y1="51.20" x2="97" y2="51.20" stroke="#4a4a4a" stroke-width="1.7"/>
<line x1="92" y1="72.80" x2="97" y2="72.80" stroke="#4a4a4a" stroke-width="1.7"/>
<line x1="86" y1="94.40" x2="97" y2="94.40" stroke="#4a4a4a" stroke-width="1.7"/>
<line x1="92" y1="116.00" x2="97" y2="116.00" stroke="#4a4a4a" stroke-width="1.7"/>
<line x1="86" y1="137.60" x2="97" y2="137.60" stroke="#4a4a4a" stroke-width="1.7"/>
<line x1="92" y1="159.20" x2="97" y2="159.20" stroke="#4a4a4a" stroke-width="1.7"/>
<line x1="86" y1="180.80" x2="97" y2="180.80" stroke="#4a4a4a" stroke-width="1.7"/>
<line x1="92" y1="202.40" x2="97" y2="202.40" stroke="#4a4a4a" stroke-width="1.7"/>
<line x1="86" y1="224.00" x2="97" y2="224.00" stroke="#4a4a4a" stroke-width="1.7"/>
<line x1="92" y1="245.60" x2="97" y2="245.60" stroke="#4a4a4a" stroke-width="1.7"/>
<line x1="86" y1="267.20" x2="97" y2="267.20" stroke="#4a4a4a" stroke-width="1.7"/>
<line x1="92" y1="288.80" x2="97" y2="288.80" stroke="#4a4a4a" stroke-width="1.7"/>
<line x1="86" y1="310.40" x2="97" y2="310.40" stroke="#4a4a4a" stroke-width="1.7"/>
<line x1="92" y1="332.00" x2="97" y2="332.00" stroke="#4a4a4a" stroke-width="1.7"/>
<line x1="86" y1="353.60" x2="97" y2="353.60" stroke="#4a4a4a" stroke-width="1.7"/>
<line x1="92" y1="375.20" x2="97" y2="375.20" stroke="#4a4a4a" stroke-width="1.7"/>
<line x1="86" y1="396.80" x2="97" y2="396.80" stroke="#4a4a4a" stroke-width="1.7"/>
<line x1="92" y1="418.40" x2="97" y2="418.40" stroke="#4a4a4a" stroke-width="1.7"/>
<line x1="86" y1="440.00" x2="97" y2="440.00" stroke="#4a4a4a" stroke-width="1.7"/>
<line x1="96" y1="440" x2="925.4" y2="440" stroke="#111" stroke-width="2.3"/>
<line x1="126.55" y1="440" x2="126.55" y2="450.5" stroke="#111" stroke-width="2"/>
<line x1="274.30" y1="440" x2="274.30" y2="450.5" stroke="#111" stroke-width="2"/>
<line x1="422.05" y1="440" x2="422.05" y2="450.5" stroke="#111" stroke-width="2"/>
<line x1="569.80" y1="440" x2="569.80" y2="450.5" stroke="#111" stroke-width="2"/>
<line x1="717.55" y1="440" x2="717.55" y2="450.5" stroke="#111" stroke-width="2"/>
<line x1="865.30" y1="440" x2="865.30" y2="450.5" stroke="#111" stroke-width="2"/>
<line x1="200.43" y1="440" x2="200.43" y2="445.5" stroke="#111" stroke-width="2"/>
<line x1="348.17" y1="440" x2="348.17" y2="445.5" stroke="#111" stroke-width="2"/>
<line x1="495.93" y1="440" x2="495.93" y2="445.5" stroke="#111" stroke-width="2"/>
<line x1="643.67" y1="440" x2="643.67" y2="445.5" stroke="#111" stroke-width="2"/>
<line x1="791.42" y1="440" x2="791.42" y2="445.5" stroke="#111" stroke-width="2"/>
<line x1="924.4" y1="8.0" x2="924.4" y2="441" stroke="#111" stroke-width="2"/>
<line x1="924" y1="8.00" x2="935.5" y2="8.00" stroke="#111" stroke-width="2"/>
<line x1="924" y1="62.00" x2="930.5" y2="62.00" stroke="#111" stroke-width="2"/>
<line x1="924" y1="116.00" x2="935.5" y2="116.00" stroke="#111" stroke-width="2"/>
<line x1="924" y1="170.00" x2="930.5" y2="170.00" stroke="#111" stroke-width="2"/>
<line x1="924" y1="224.00" x2="935.5" y2="224.00" stroke="#111" stroke-width="2"/>
<line x1="924" y1="278.00" x2="930.5" y2="278.00" stroke="#111" stroke-width="2"/>
<line x1="924" y1="332.00" x2="935.5" y2="332.00" stroke="#111" stroke-width="2"/>
<line x1="924" y1="386.00" x2="930.5" y2="386.00" stroke="#111" stroke-width="2"/>
<line x1="924" y1="440.00" x2="935.5" y2="440.00" stroke="#111" stroke-width="2"/>
<ellipse cx="544.4" cy="216.5" rx="17.4" ry="31.8" fill="none" stroke="#000" stroke-width="1.8"/>
<line x1="543" y1="184.7" x2="586" y2="184.7" stroke="#000" stroke-width="2"/>
<polygon points="584,179.7 602,184.7 584,189.7" fill="#000"/>
<ellipse cx="760.2" cy="43.9" rx="19.9" ry="35.7" fill="none" stroke="#000" stroke-width="1.8"/>
<line x1="760" y1="79.2" x2="720" y2="79.2" stroke="#000" stroke-width="2"/>
<polygon points="725,74.2 707,79.0 725,84.0" fill="#000"/>
<text transform="translate(77.6,17.60) scale(0.9,1)" font-family="Liberation Serif" font-size="26.9" fill="#666" text-anchor="end">0</text>
<text transform="translate(77.6,60.80) scale(0.9,1)" font-family="Liberation Serif" font-size="26.9" fill="#666" text-anchor="end">−5</text>
<text transform="translate(77.6,104.00) scale(0.9,1)" font-family="Liberation Serif" font-size="26.9" fill="#666" text-anchor="end">−10</text>
<text transform="translate(77.6,147.20) scale(0.9,1)" font-family="Liberation Serif" font-size="26.9" fill="#666" text-anchor="end">−15</text>
<text transform="translate(77.6,190.40) scale(0.9,1)" font-family="Liberation Serif" font-size="26.9" fill="#666" text-anchor="end">−20</text>
<text transform="translate(77.6,233.60) scale(0.9,1)" font-family="Liberation Serif" font-size="26.9" fill="#666" text-anchor="end">−25</text>
<text transform="translate(77.6,276.80) scale(0.9,1)" font-family="Liberation Serif" font-size="26.9" fill="#666" text-anchor="end">−30</text>
<text transform="translate(77.6,320.00) scale(0.9,1)" font-family="Liberation Serif" font-size="26.9" fill="#666" text-anchor="end">−35</text>
<text transform="translate(77.6,363.20) scale(0.9,1)" font-family="Liberation Serif" font-size="26.9" fill="#666" text-anchor="end">−40</text>
<text transform="translate(77.6,406.40) scale(0.9,1)" font-family="Liberation Serif" font-size="26.9" fill="#666" text-anchor="end">−45</text>
<text transform="translate(77.6,449.60) scale(0.9,1)" font-family="Liberation Serif" font-size="26.9" fill="#666" text-anchor="end">−50</text>
<text x="126.55" y="481" font-family="Liberation Serif" font-size="25.5" fill="#1a1a1a" text-anchor="middle">5</text>
<text x="274.30" y="481" font-family="Liberation Serif" font-size="25.5" fill="#1a1a1a" text-anchor="middle">10</text>
<text x="422.05" y="481" font-family="Liberation Serif" font-size="25.5" fill="#1a1a1a" text-anchor="middle">15</text>
<text x="569.80" y="481" font-family="Liberation Serif" font-size="25.5" fill="#1a1a1a" text-anchor="middle">20</text>
<text x="717.55" y="481" font-family="Liberation Serif" font-size="25.5" fill="#1a1a1a" text-anchor="middle">25</text>
<text x="865.30" y="481" font-family="Liberation Serif" font-size="25.5" fill="#1a1a1a" text-anchor="middle">30</text>
<text transform="translate(943.19,17.90) scale(1.000,1)" font-family="Liberation Serif" font-size="25.8" fill="#1a1a1a">1</text>
<text transform="translate(956.38,17.90) scale(1.000,1)" font-family="Liberation Serif" font-size="25.8" fill="#1a1a1a">.</text>
<text transform="translate(968.45,17.90) scale(1.000,1)" font-family="Liberation Serif" font-size="25.8" fill="#1a1a1a">0</text>
<text transform="translate(943.55,125.90) scale(1.000,1)" font-family="Liberation Serif" font-size="25.8" fill="#1a1a1a">0</text>
<text transform="translate(956.38,125.90) scale(1.000,1)" font-family="Liberation Serif" font-size="25.8" fill="#1a1a1a">.</text>
<text transform="translate(968.56,125.90) scale(1.000,1)" font-family="Liberation Serif" font-size="25.8" fill="#1a1a1a">9</text>
<text transform="translate(943.55,233.90) scale(1.000,1)" font-family="Liberation Serif" font-size="25.8" fill="#1a1a1a">0</text>
<text transform="translate(956.38,233.90) scale(1.000,1)" font-family="Liberation Serif" font-size="25.8" fill="#1a1a1a">.</text>
<text transform="translate(968.45,233.90) scale(1.000,1)" font-family="Liberation Serif" font-size="25.8" fill="#1a1a1a">8</text>
<text transform="translate(943.55,341.90) scale(1.000,1)" font-family="Liberation Serif" font-size="25.8" fill="#1a1a1a">0</text>
<text transform="translate(956.38,341.90) scale(1.000,1)" font-family="Liberation Serif" font-size="25.8" fill="#1a1a1a">.</text>
<text transform="translate(967.97,341.90) scale(1.000,1)" font-family="Liberation Serif" font-size="25.8" fill="#1a1a1a">7</text>
<text transform="translate(943.55,449.90) scale(1.000,1)" font-family="Liberation Serif" font-size="25.8" fill="#1a1a1a">0</text>
<text transform="translate(956.38,449.90) scale(1.000,1)" font-family="Liberation Serif" font-size="25.8" fill="#1a1a1a">.</text>
<text transform="translate(968.28,449.90) scale(1.000,1)" font-family="Liberation Serif" font-size="25.8" fill="#1a1a1a">6</text>
<text transform="translate(403.68,522.00) scale(0.845,1)" font-family="Liberation Serif" font-size="32" fill="#3a3a3a">F</text>
<text transform="translate(420.69,522.00) scale(1.000,1)" font-family="Liberation Serif" font-size="32" fill="#3a3a3a">r</text>
<text transform="translate(434.13,522.00) scale(1.000,1)" font-family="Liberation Serif" font-size="32" fill="#3a3a3a">e</text>
<text transform="translate(448.68,522.00) scale(0.931,1)" font-family="Liberation Serif" font-size="32" fill="#3a3a3a">q</text>
<text transform="translate(464.48,522.00) scale(0.884,1)" font-family="Liberation Serif" font-size="32" fill="#3a3a3a">u</text>
<text transform="translate(479.43,522.00) scale(1.000,1)" font-family="Liberation Serif" font-size="32" fill="#3a3a3a">e</text>
<text transform="translate(494.40,522.00) scale(0.899,1)" font-family="Liberation Serif" font-size="32" fill="#3a3a3a">n</text>
<text transform="translate(509.58,522.00) scale(1.000,1)" font-family="Liberation Serif" font-size="32" fill="#3a3a3a">c</text>
<text transform="translate(524.92,522.00) scale(0.858,1)" font-family="Liberation Serif" font-size="32" fill="#3a3a3a">y</text>
<text transform="translate(541.48,522.00) scale(1.000,1)" font-family="Liberation Serif" font-size="32" fill="#3a3a3a">(</text>
<text transform="translate(554.62,522.00) scale(0.639,1)" font-family="Liberation Serif" font-size="32" fill="#3a3a3a">G</text>
<text transform="translate(569.98,522.00) scale(0.625,1)" font-family="Liberation Serif" font-size="32" fill="#3a3a3a">H</text>
<text transform="translate(585.21,522.00) scale(1.000,1)" font-family="Liberation Serif" font-size="32" fill="#3a3a3a">z</text>
<text transform="translate(602.26,522.00) scale(1.000,1)" font-family="Liberation Serif" font-size="32" fill="#3a3a3a">)</text>
<g transform="translate(23.4,307.5) rotate(-90)"><text transform="translate(-2.08,0.00) scale(1.000,1)" font-family="Liberation Serif" font-size="32" fill="#3a3a3a">S</text>
<text transform="translate(30.63,0.00) scale(0.960,1)" font-family="Liberation Serif" font-size="32" fill="#3a3a3a">p</text>
<text transform="translate(46.04,0.00) scale(1.000,1)" font-family="Liberation Serif" font-size="32" fill="#3a3a3a">a</text>
<text transform="translate(63.51,0.00) scale(1.000,1)" font-family="Liberation Serif" font-size="32" fill="#3a3a3a">r</text>
<text transform="translate(77.10,0.00) scale(1.000,1)" font-family="Liberation Serif" font-size="32" fill="#3a3a3a">a</text>
<text transform="translate(92.85,0.00) scale(0.576,1)" font-family="Liberation Serif" font-size="32" fill="#3a3a3a">m</text>
<text transform="translate(108.43,0.00) scale(1.000,1)" font-family="Liberation Serif" font-size="32" fill="#3a3a3a">e</text>
<text transform="translate(126.63,0.00) scale(1.000,1)" font-family="Liberation Serif" font-size="32" fill="#3a3a3a">t</text>
<text transform="translate(139.49,0.00) scale(1.000,1)" font-family="Liberation Serif" font-size="32" fill="#3a3a3a">e</text>
<text transform="translate(156.69,0.00) scale(1.000,1)" font-family="Liberation Serif" font-size="32" fill="#3a3a3a">r</text></g>
<g transform="translate(1012.7,299.3) rotate(-90)"><text transform="translate(-1.06,0.00) scale(1.000,1)" font-family="Liberation Serif" font-size="31" fill="#3a3a3a">a</text>
<text transform="translate(14.89,0.00) scale(0.959,1)" font-family="Liberation Serif" font-size="31" fill="#3a3a3a">b</text>
<text transform="translate(31.24,0.00) scale(1.000,1)" font-family="Liberation Serif" font-size="31" fill="#3a3a3a">s</text>
<text transform="translate(45.20,0.00) scale(1.000,1)" font-family="Liberation Serif" font-size="31" fill="#3a3a3a">o</text>
<text transform="translate(63.21,0.00) scale(1.000,1)" font-family="Liberation Serif" font-size="31" fill="#3a3a3a">r</text>
<text transform="translate(76.79,0.00) scale(0.996,1)" font-family="Liberation Serif" font-size="31" fill="#3a3a3a">p</text>
<text transform="translate(95.38,0.00) scale(1.000,1)" font-family="Liberation Serif" font-size="31" fill="#3a3a3a">t</text>
<text transform="translate(111.01,0.00) scale(1.000,1)" font-family="Liberation Serif" font-size="31" fill="#3a3a3a">i</text>
<text transform="translate(123.20,0.00) scale(1.000,1)" font-family="Liberation Serif" font-size="31" fill="#3a3a3a">o</text>
<text transform="translate(139.00,0.00) scale(0.959,1)" font-family="Liberation Serif" font-size="31" fill="#3a3a3a">n</text></g>
<rect x="643" y="266" width="239.6" height="151.6" fill="#fff" stroke="#808080" stroke-width="1.3"/>
<line x1="644.5" y1="278.6" x2="685.5" y2="278.6" stroke="#383838" stroke-width="2.6" stroke-linecap="butt"/>
<text transform="translate(693.62,285.50) scale(1.000,1)" font-family="Liberation Serif" font-size="19.8" fill="#333">S</text>
<text transform="translate(704.32,285.50) scale(1.000,1)" font-family="Liberation Serif" font-size="19.8" fill="#333">a</text>
<text transform="translate(714.14,285.50) scale(0.585,1)" font-family="Liberation Serif" font-size="19.8" fill="#333">m</text>
<text transform="translate(723.82,285.50) scale(0.974,1)" font-family="Liberation Serif" font-size="19.8" fill="#333">p</text>
<text transform="translate(735.42,285.50) scale(1.000,1)" font-family="Liberation Serif" font-size="19.8" fill="#333">l</text>
<text transform="translate(743.49,285.50) scale(1.000,1)" font-family="Liberation Serif" font-size="19.8" fill="#333">e</text>
<text transform="translate(763.02,285.50) scale(0.615,1)" font-family="Liberation Serif" font-size="19.8" fill="#333">A</text>
<text transform="translate(781.37,285.50) scale(1.000,1)" font-family="Liberation Serif" font-size="19.8" fill="#333">S</text>
<text transform="translate(793.23,290.70) scale(1.000,1)" font-family="Liberation Serif" font-size="12" fill="#333">1</text>
<text transform="translate(799.23,290.70) scale(1.000,1)" font-family="Liberation Serif" font-size="12" fill="#333">1</text>
<line x1="644.5" y1="304.9" x2="685.5" y2="304.9" stroke="#ee1c25" stroke-width="3" stroke-linecap="butt" stroke-dasharray="14.8 15.1"/>
<text transform="translate(693.62,312.00) scale(1.000,1)" font-family="Liberation Serif" font-size="19.8" fill="#333">S</text>
<text transform="translate(704.32,312.00) scale(1.000,1)" font-family="Liberation Serif" font-size="19.8" fill="#333">a</text>
<text transform="translate(714.14,312.00) scale(0.585,1)" font-family="Liberation Serif" font-size="19.8" fill="#333">m</text>
<text transform="translate(723.82,312.00) scale(0.974,1)" font-family="Liberation Serif" font-size="19.8" fill="#333">p</text>
<text transform="translate(735.42,312.00) scale(1.000,1)" font-family="Liberation Serif" font-size="19.8" fill="#333">l</text>
<text transform="translate(743.49,312.00) scale(1.000,1)" font-family="Liberation Serif" font-size="19.8" fill="#333">e</text>
<text transform="translate(763.02,312.00) scale(0.615,1)" font-family="Liberation Serif" font-size="19.8" fill="#333">A</text>
<text transform="translate(781.37,312.00) scale(1.000,1)" font-family="Liberation Serif" font-size="19.8" fill="#333">S</text>
<text transform="translate(793.47,317.20) scale(1.000,1)" font-family="Liberation Serif" font-size="12" fill="#333">2</text>
<text transform="translate(799.23,317.20) scale(1.000,1)" font-family="Liberation Serif" font-size="12" fill="#333">1</text>
<line x1="644.5" y1="331.6" x2="685.5" y2="331.6" stroke="#1464e6" stroke-width="3.2" stroke-linecap="butt" stroke-dasharray="5 12.8"/>
<text transform="translate(693.62,338.50) scale(1.000,1)" font-family="Liberation Serif" font-size="19.8" fill="#333">S</text>
<text transform="translate(704.32,338.50) scale(1.000,1)" font-family="Liberation Serif" font-size="19.8" fill="#333">a</text>
<text transform="translate(714.14,338.50) scale(0.585,1)" font-family="Liberation Serif" font-size="19.8" fill="#333">m</text>
<text transform="translate(723.82,338.50) scale(0.974,1)" font-family="Liberation Serif" font-size="19.8" fill="#333">p</text>
<text transform="translate(735.42,338.50) scale(1.000,1)" font-family="Liberation Serif" font-size="19.8" fill="#333">l</text>
<text transform="translate(743.49,338.50) scale(1.000,1)" font-family="Liberation Serif" font-size="19.8" fill="#333">e</text>
<text transform="translate(762.72,338.50) scale(0.735,1)" font-family="Liberation Serif" font-size="19.8" fill="#333">B</text>
<text transform="translate(781.37,338.50) scale(1.000,1)" font-family="Liberation Serif" font-size="19.8" fill="#333">S</text>
<text transform="translate(793.23,343.70) scale(1.000,1)" font-family="Liberation Serif" font-size="12" fill="#333">1</text>
<text transform="translate(799.23,343.70) scale(1.000,1)" font-family="Liberation Serif" font-size="12" fill="#333">1</text>
<line x1="644.5" y1="357.4" x2="685.5" y2="357.4" stroke="#11994a" stroke-width="2.7" stroke-linecap="butt" stroke-dasharray="3 3.15"/>
<text transform="translate(693.62,364.50) scale(1.000,1)" font-family="Liberation Serif" font-size="19.8" fill="#333">S</text>
<text transform="translate(704.32,364.50) scale(1.000,1)" font-family="Liberation Serif" font-size="19.8" fill="#333">a</text>
<text transform="translate(714.14,364.50) scale(0.585,1)" font-family="Liberation Serif" font-size="19.8" fill="#333">m</text>
<text transform="translate(723.82,364.50) scale(0.974,1)" font-family="Liberation Serif" font-size="19.8" fill="#333">p</text>
<text transform="translate(735.42,364.50) scale(1.000,1)" font-family="Liberation Serif" font-size="19.8" fill="#333">l</text>
<text transform="translate(743.49,364.50) scale(1.000,1)" font-family="Liberation Serif" font-size="19.8" fill="#333">e</text>
<text transform="translate(762.72,364.50) scale(0.735,1)" font-family="Liberation Serif" font-size="19.8" fill="#333">B</text>
<text transform="translate(781.37,364.50) scale(1.000,1)" font-family="Liberation Serif" font-size="19.8" fill="#333">S</text>
<text transform="translate(793.47,369.70) scale(1.000,1)" font-family="Liberation Serif" font-size="12" fill="#333">2</text>
<text transform="translate(799.23,369.70) scale(1.000,1)" font-family="Liberation Serif" font-size="12" fill="#333">1</text>
<line x1="644.5" y1="383.8" x2="685.5" y2="383.8" stroke="#a259e8" stroke-width="3" stroke-linecap="butt" stroke-dasharray="13.6 7.6 4.7 7.1 4.7 20"/>
<text transform="translate(693.62,390.70) scale(1.000,1)" font-family="Liberation Serif" font-size="19.8" fill="#333">S</text>
<text transform="translate(704.32,390.70) scale(1.000,1)" font-family="Liberation Serif" font-size="19.8" fill="#333">a</text>
<text transform="translate(714.14,390.70) scale(0.585,1)" font-family="Liberation Serif" font-size="19.8" fill="#333">m</text>
<text transform="translate(723.82,390.70) scale(0.974,1)" font-family="Liberation Serif" font-size="19.8" fill="#333">p</text>
<text transform="translate(735.42,390.70) scale(1.000,1)" font-family="Liberation Serif" font-size="19.8" fill="#333">l</text>
<text transform="translate(743.49,390.70) scale(1.000,1)" font-family="Liberation Serif" font-size="19.8" fill="#333">e</text>
<text transform="translate(763.02,390.70) scale(0.615,1)" font-family="Liberation Serif" font-size="19.8" fill="#333">A</text>
<text transform="translate(782.32,390.70) scale(1.000,1)" font-family="Liberation Serif" font-size="19.8" fill="#333">a</text>
<text transform="translate(792.38,390.70) scale(0.938,1)" font-family="Liberation Serif" font-size="19.8" fill="#333">b</text>
<text transform="translate(802.52,390.70) scale(1.000,1)" font-family="Liberation Serif" font-size="19.8" fill="#333">s</text>
<text transform="translate(811.22,390.70) scale(1.000,1)" font-family="Liberation Serif" font-size="19.8" fill="#333">o</text>
<text transform="translate(822.52,390.70) scale(1.000,1)" font-family="Liberation Serif" font-size="19.8" fill="#333">r</text>
<text transform="translate(831.07,390.70) scale(0.974,1)" font-family="Liberation Serif" font-size="19.8" fill="#333">p</text>
<text transform="translate(842.64,390.70) scale(1.000,1)" font-family="Liberation Serif" font-size="19.8" fill="#333">t</text>
<text transform="translate(852.41,390.70) scale(1.000,1)" font-family="Liberation Serif" font-size="19.8" fill="#333">i</text>
<text transform="translate(859.97,390.70) scale(1.000,1)" font-family="Liberation Serif" font-size="19.8" fill="#333">o</text>
<text transform="translate(869.96,390.70) scale(0.938,1)" font-family="Liberation Serif" font-size="19.8" fill="#333">n</text>
<line x1="644.5" y1="405.2" x2="685.5" y2="405.2" stroke="#d99a0e" stroke-width="3" stroke-linecap="butt" stroke-dasharray="7.5 6.1"/>
<text transform="translate(693.62,412.40) scale(1.000,1)" font-family="Liberation Serif" font-size="19.8" fill="#333">S</text>
<text transform="translate(704.32,412.40) scale(1.000,1)" font-family="Liberation Serif" font-size="19.8" fill="#333">a</text>
<text transform="translate(714.14,412.40) scale(0.585,1)" font-family="Liberation Serif" font-size="19.8" fill="#333">m</text>
<text transform="translate(723.82,412.40) scale(0.974,1)" font-family="Liberation Serif" font-size="19.8" fill="#333">p</text>
<text transform="translate(735.42,412.40) scale(1.000,1)" font-family="Liberation Serif" font-size="19.8" fill="#333">l</text>
<text transform="translate(743.49,412.40) scale(1.000,1)" font-family="Liberation Serif" font-size="19.8" fill="#333">e</text>
<text transform="translate(762.72,412.40) scale(0.735,1)" font-family="Liberation Serif" font-size="19.8" fill="#333">B</text>
<text transform="translate(782.32,412.40) scale(1.000,1)" font-family="Liberation Serif" font-size="19.8" fill="#333">a</text>
<text transform="translate(792.38,412.40) scale(0.938,1)" font-family="Liberation Serif" font-size="19.8" fill="#333">b</text>
<text transform="translate(802.52,412.40) scale(1.000,1)" font-family="Liberation Serif" font-size="19.8" fill="#333">s</text>
<text transform="translate(811.22,412.40) scale(1.000,1)" font-family="Liberation Serif" font-size="19.8" fill="#333">o</text>
<text transform="translate(822.52,412.40) scale(1.000,1)" font-family="Liberation Serif" font-size="19.8" fill="#333">r</text>
<text transform="translate(831.07,412.40) scale(0.974,1)" font-family="Liberation Serif" font-size="19.8" fill="#333">p</text>
<text transform="translate(842.64,412.40) scale(1.000,1)" font-family="Liberation Serif" font-size="19.8" fill="#333">t</text>
<text transform="translate(852.41,412.40) scale(1.000,1)" font-family="Liberation Serif" font-size="19.8" fill="#333">i</text>
<text transform="translate(859.97,412.40) scale(1.000,1)" font-family="Liberation Serif" font-size="19.8" fill="#333">o</text>
<text transform="translate(869.96,412.40) scale(0.938,1)" font-family="Liberation Serif" font-size="19.8" fill="#333">n</text>
</svg>
</body></html>
